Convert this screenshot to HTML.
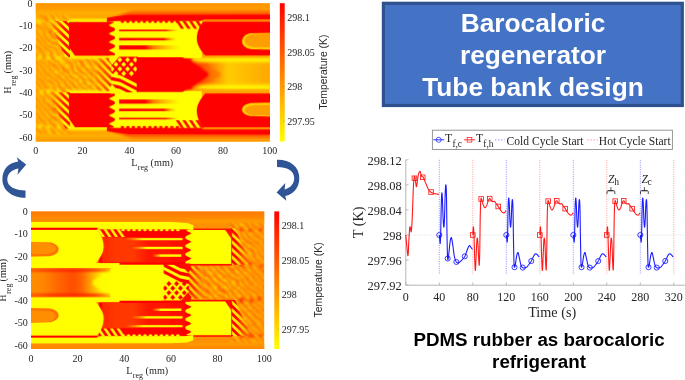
<!DOCTYPE html>
<html><head><meta charset="utf-8"><title>Barocaloric regenerator</title>
<style>
html,body{margin:0;padding:0;background:#fff;}
body{width:685px;height:380px;overflow:hidden;position:relative;}
svg{position:absolute;left:0;top:0;display:block;}
.s{font-family:"Liberation Serif","Times New Roman",serif;fill:#262626;}
.a{font-family:"Liberation Sans",Arial,sans-serif;}
</style></head><body>
<svg width="685" height="380" viewBox="0 0 685 380">
<defs>
<linearGradient id="cb" x1="0" y1="0" x2="0" y2="1"><stop offset="0" stop-color="#ff0000"/><stop offset="1" stop-color="#ffff00"/></linearGradient>
<filter id="bl" x="-5%" y="-5%" width="110%" height="110%"><feGaussianBlur stdDeviation="0.6"/></filter>
<filter id="blx" x="-5%" y="-5%" width="110%" height="110%"><feTurbulence type="fractalNoise" baseFrequency="0.09" numOctaves="2" seed="4" result="n"/><feDisplacementMap in="SourceGraphic" in2="n" scale="7" xChannelSelector="R" yChannelSelector="G"/><feGaussianBlur stdDeviation="0.9"/></filter>
<filter id="bl2" x="-5%" y="-5%" width="110%" height="110%"><feGaussianBlur stdDeviation="0.85"/></filter>
<clipPath id="cpT"><rect x="35.8" y="3.2" width="233.9" height="138.4"/></clipPath>
<clipPath id="cpB"><rect x="31.0" y="211.4" width="233.2" height="137.6"/></clipPath>
</defs>
<rect width="685" height="380" fill="#fff"/>

<defs><pattern id="psa" width="2.30" height="4" patternUnits="userSpaceOnUse" patternTransform="rotate(-43.0)"><rect width="2.30" height="4" fill="#ffd900"/><rect width="1.15" height="4" fill="#ff7000"/></pattern><pattern id="pwa" width="3.1" height="4" patternUnits="userSpaceOnUse" patternTransform="rotate(52)"><rect width="1.3" height="4" fill="#ffa300" fill-opacity="0.45"/></pattern><linearGradient id="gcalma" x1="0" y1="0" x2="1" y2="0"><stop offset="0.000" stop-color="#ffa300" stop-opacity="0.65"/><stop offset="0.550" stop-color="#ffa300" stop-opacity="0.45"/><stop offset="1.000" stop-color="#ffa300" stop-opacity="0.00"/></linearGradient><linearGradient id="gta" x1="0" y1="0" x2="0" y2="1"><stop offset="0.000" stop-color="#ff9100" stop-opacity="1.00"/><stop offset="0.500" stop-color="#ff9e00" stop-opacity="1.00"/><stop offset="0.850" stop-color="#ffb200" stop-opacity="1.00"/><stop offset="1.000" stop-color="#ffb200" stop-opacity="0.00"/></linearGradient><linearGradient id="gba" x1="0" y1="0" x2="0" y2="1"><stop offset="0.000" stop-color="#ffb200" stop-opacity="0.00"/><stop offset="0.150" stop-color="#ffb200" stop-opacity="1.00"/><stop offset="0.500" stop-color="#ff9e00" stop-opacity="1.00"/><stop offset="1.000" stop-color="#ff9100" stop-opacity="1.00"/></linearGradient><pattern id="phua" width="2.40" height="4" patternUnits="userSpaceOnUse" patternTransform="rotate(-45.0)"><rect width="2.40" height="4" fill="#fffa00"/><rect width="1.20" height="4" fill="#ff1400"/></pattern><linearGradient id="gmua" gradientUnits="userSpaceOnUse" x1="5.5" y1="0" x2="14.6" y2="0"><stop offset="0" stop-color="#fff" stop-opacity="0.1"/><stop offset="0.4" stop-color="#fff" stop-opacity="0.5"/><stop offset="0.72" stop-color="#fff" stop-opacity="1"/><stop offset="1" stop-color="#fff" stop-opacity="1"/></linearGradient><mask id="mkua" maskUnits="userSpaceOnUse" x="3" y="0" width="13" height="64"><polygon points="14.7,8.00 14.7,24.40 12.6,24.40 5.5,8.00" fill="url(#gmua)"/></mask><linearGradient id="glua" x1="0" y1="0" x2="0" y2="1"><stop offset="0.000" stop-color="#ff0000" stop-opacity="0.00"/><stop offset="1.000" stop-color="#ff0000" stop-opacity="1.00"/></linearGradient><linearGradient id="gsua" x1="0" y1="0" x2="1" y2="0"><stop offset="0.000" stop-color="#ff0000" stop-opacity="1.00"/><stop offset="0.780" stop-color="#ff1400" stop-opacity="1.00"/><stop offset="1.000" stop-color="#ff7300" stop-opacity="0.00"/></linearGradient><linearGradient id="gt3ua" x1="0" y1="0" x2="1" y2="0"><stop offset="0.000" stop-color="#ff0000" stop-opacity="1.00"/><stop offset="0.420" stop-color="#ff0000" stop-opacity="1.00"/><stop offset="0.550" stop-color="#ff6600" stop-opacity="0.90"/><stop offset="1.000" stop-color="#ffa600" stop-opacity="0.00"/></linearGradient><pattern id="phma" width="2.40" height="4" patternUnits="userSpaceOnUse" patternTransform="rotate(-45.0)"><rect width="2.40" height="4" fill="#fffa00"/><rect width="1.20" height="4" fill="#ff1400"/></pattern><linearGradient id="gmma" gradientUnits="userSpaceOnUse" x1="5.5" y1="0" x2="14.6" y2="0"><stop offset="0" stop-color="#fff" stop-opacity="0.1"/><stop offset="0.4" stop-color="#fff" stop-opacity="0.5"/><stop offset="0.72" stop-color="#fff" stop-opacity="1"/><stop offset="1" stop-color="#fff" stop-opacity="1"/></linearGradient><mask id="mkma" maskUnits="userSpaceOnUse" x="3" y="0" width="13" height="64"><polygon points="14.7,40.00 14.7,56.40 12.6,56.40 5.5,40.00" fill="url(#gmma)"/></mask><linearGradient id="glma" x1="0" y1="0" x2="0" y2="1"><stop offset="0.000" stop-color="#ff0000" stop-opacity="1.00"/><stop offset="1.000" stop-color="#ff0000" stop-opacity="0.00"/></linearGradient><linearGradient id="gsma" x1="0" y1="0" x2="1" y2="0"><stop offset="0.000" stop-color="#ff0000" stop-opacity="1.00"/><stop offset="0.780" stop-color="#ff1400" stop-opacity="1.00"/><stop offset="1.000" stop-color="#ff7300" stop-opacity="0.00"/></linearGradient><linearGradient id="gt3ma" x1="0" y1="0" x2="1" y2="0"><stop offset="0.000" stop-color="#ff0000" stop-opacity="1.00"/><stop offset="0.420" stop-color="#ff0000" stop-opacity="1.00"/><stop offset="0.550" stop-color="#ff6600" stop-opacity="0.90"/><stop offset="1.000" stop-color="#ffa600" stop-opacity="0.00"/></linearGradient><linearGradient id="gwa" x1="0" y1="0" x2="1" y2="0"><stop offset="0.000" stop-color="#ff0000" stop-opacity="1.00"/><stop offset="0.200" stop-color="#ff3300" stop-opacity="1.00"/><stop offset="0.300" stop-color="#ff8000" stop-opacity="1.00"/><stop offset="0.480" stop-color="#ffcc00" stop-opacity="1.00"/><stop offset="0.720" stop-color="#ffb800" stop-opacity="1.00"/><stop offset="1.000" stop-color="#ffa100" stop-opacity="1.00"/></linearGradient><linearGradient id="gwea" x1="0" y1="0" x2="0" y2="1"><stop offset="0.000" stop-color="#ffe600" stop-opacity="0.60"/><stop offset="0.050" stop-color="#ffff00" stop-opacity="1.00"/><stop offset="0.100" stop-color="#fff500" stop-opacity="0.90"/><stop offset="0.220" stop-color="#ffcc00" stop-opacity="0.00"/><stop offset="0.780" stop-color="#ffcc00" stop-opacity="0.00"/><stop offset="0.900" stop-color="#fff500" stop-opacity="0.90"/><stop offset="0.950" stop-color="#ffff00" stop-opacity="1.00"/><stop offset="1.000" stop-color="#ffe600" stop-opacity="0.60"/></linearGradient><pattern id="phca" width="2.40" height="4" patternUnits="userSpaceOnUse" patternTransform="rotate(-43.0)"><rect width="2.40" height="4" fill="#fff700"/><rect width="1.20" height="4" fill="#ff1900"/></pattern><linearGradient id="gmca" x1="0" y1="0" x2="1" y2="0"><stop offset="0" stop-color="#fff" stop-opacity="0"/><stop offset="0.6" stop-color="#fff" stop-opacity="0.6"/><stop offset="1" stop-color="#fff" stop-opacity="1"/></linearGradient><mask id="mkca" maskUnits="userSpaceOnUse" x="24" y="20" width="12" height="24"><rect x="25" y="20" width="8" height="24" fill="url(#gmca)"/></mask><clipPath id="cka"><rect x="32.2" y="23.6" width="10.9" height="16.8"/></clipPath><pattern id="psb" width="2.30" height="4" patternUnits="userSpaceOnUse" patternTransform="rotate(-43.0)"><rect width="2.30" height="4" fill="#ffcc00"/><rect width="1.15" height="4" fill="#ff5c00"/></pattern><pattern id="pwb" width="3.1" height="4" patternUnits="userSpaceOnUse" patternTransform="rotate(52)"><rect width="1.3" height="4" fill="#ff8f00" fill-opacity="0.45"/></pattern><linearGradient id="gcalmb" x1="0" y1="0" x2="1" y2="0"><stop offset="0.000" stop-color="#ff8f00" stop-opacity="0.65"/><stop offset="0.550" stop-color="#ff8f00" stop-opacity="0.45"/><stop offset="1.000" stop-color="#ff8f00" stop-opacity="0.00"/></linearGradient><linearGradient id="gtb" x1="0" y1="0" x2="0" y2="1"><stop offset="0.000" stop-color="#ff7500" stop-opacity="1.00"/><stop offset="0.500" stop-color="#ff8700" stop-opacity="1.00"/><stop offset="0.850" stop-color="#ff9e00" stop-opacity="1.00"/><stop offset="1.000" stop-color="#ff9e00" stop-opacity="0.00"/></linearGradient><linearGradient id="gbb" x1="0" y1="0" x2="0" y2="1"><stop offset="0.000" stop-color="#ff9e00" stop-opacity="0.00"/><stop offset="0.150" stop-color="#ff9e00" stop-opacity="1.00"/><stop offset="0.500" stop-color="#ff8700" stop-opacity="1.00"/><stop offset="1.000" stop-color="#ff7500" stop-opacity="1.00"/></linearGradient><pattern id="phub" width="2.40" height="4" patternUnits="userSpaceOnUse" patternTransform="rotate(-45.0)"><rect width="2.40" height="4" fill="#ff0500"/><rect width="1.20" height="4" fill="#ffeb00"/></pattern><linearGradient id="gmub" gradientUnits="userSpaceOnUse" x1="5.5" y1="0" x2="14.6" y2="0"><stop offset="0" stop-color="#fff" stop-opacity="0.1"/><stop offset="0.4" stop-color="#fff" stop-opacity="0.5"/><stop offset="0.72" stop-color="#fff" stop-opacity="1"/><stop offset="1" stop-color="#fff" stop-opacity="1"/></linearGradient><mask id="mkub" maskUnits="userSpaceOnUse" x="3" y="0" width="13" height="64"><polygon points="14.7,8.00 14.7,24.40 12.6,24.40 5.5,8.00" fill="url(#gmub)"/></mask><linearGradient id="gzub" x1="0" y1="0" x2="1" y2="0"><stop offset="0.000" stop-color="#ff0d00" stop-opacity="1.00"/><stop offset="0.450" stop-color="#ff1900" stop-opacity="1.00"/><stop offset="0.620" stop-color="#ff3800" stop-opacity="1.00"/><stop offset="0.850" stop-color="#ff3800" stop-opacity="1.00"/><stop offset="1.000" stop-color="#ff2600" stop-opacity="1.00"/></linearGradient><linearGradient id="gsub" x1="0" y1="0" x2="1" y2="0"><stop offset="0.000" stop-color="#ffff00" stop-opacity="1.00"/><stop offset="0.700" stop-color="#ffff00" stop-opacity="1.00"/><stop offset="1.000" stop-color="#ffcc00" stop-opacity="0.00"/></linearGradient><pattern id="phmb" width="2.40" height="4" patternUnits="userSpaceOnUse" patternTransform="rotate(-45.0)"><rect width="2.40" height="4" fill="#ff0500"/><rect width="1.20" height="4" fill="#ffeb00"/></pattern><linearGradient id="gmmb" gradientUnits="userSpaceOnUse" x1="5.5" y1="0" x2="14.6" y2="0"><stop offset="0" stop-color="#fff" stop-opacity="0.1"/><stop offset="0.4" stop-color="#fff" stop-opacity="0.5"/><stop offset="0.72" stop-color="#fff" stop-opacity="1"/><stop offset="1" stop-color="#fff" stop-opacity="1"/></linearGradient><mask id="mkmb" maskUnits="userSpaceOnUse" x="3" y="0" width="13" height="64"><polygon points="14.7,40.00 14.7,56.40 12.6,56.40 5.5,40.00" fill="url(#gmmb)"/></mask><linearGradient id="gzmb" x1="0" y1="0" x2="1" y2="0"><stop offset="0.000" stop-color="#ff0d00" stop-opacity="1.00"/><stop offset="0.450" stop-color="#ff1900" stop-opacity="1.00"/><stop offset="0.620" stop-color="#ff3800" stop-opacity="1.00"/><stop offset="0.850" stop-color="#ff3800" stop-opacity="1.00"/><stop offset="1.000" stop-color="#ff2600" stop-opacity="1.00"/></linearGradient><linearGradient id="gsmb" x1="0" y1="0" x2="1" y2="0"><stop offset="0.000" stop-color="#ffff00" stop-opacity="1.00"/><stop offset="0.700" stop-color="#ffff00" stop-opacity="1.00"/><stop offset="1.000" stop-color="#ffcc00" stop-opacity="0.00"/></linearGradient><linearGradient id="gwb" x1="0" y1="0" x2="1" y2="0"><stop offset="0.000" stop-color="#ffff00" stop-opacity="1.00"/><stop offset="0.140" stop-color="#fff000" stop-opacity="1.00"/><stop offset="0.240" stop-color="#ffb200" stop-opacity="1.00"/><stop offset="0.360" stop-color="#ff6600" stop-opacity="1.00"/><stop offset="0.460" stop-color="#ff4d00" stop-opacity="1.00"/><stop offset="0.620" stop-color="#ff6600" stop-opacity="1.00"/><stop offset="0.800" stop-color="#ff8700" stop-opacity="1.00"/><stop offset="1.000" stop-color="#ff9100" stop-opacity="1.00"/></linearGradient><linearGradient id="grmb" x1="0" y1="0" x2="1" y2="0"><stop offset="0.000" stop-color="#ff2600" stop-opacity="0.00"/><stop offset="0.100" stop-color="#ff2600" stop-opacity="0.55"/><stop offset="0.220" stop-color="#ff1f00" stop-opacity="1.00"/><stop offset="0.700" stop-color="#ff2600" stop-opacity="0.95"/><stop offset="1.000" stop-color="#ff4d00" stop-opacity="0.70"/></linearGradient><pattern id="phcb" width="2.40" height="4" patternUnits="userSpaceOnUse" patternTransform="rotate(-43.0)"><rect width="2.40" height="4" fill="#ff0800"/><rect width="1.20" height="4" fill="#ffe600"/></pattern><linearGradient id="gmcb" x1="0" y1="0" x2="1" y2="0"><stop offset="0" stop-color="#fff" stop-opacity="0"/><stop offset="0.6" stop-color="#fff" stop-opacity="0.6"/><stop offset="1" stop-color="#fff" stop-opacity="1"/></linearGradient><mask id="mkcb" maskUnits="userSpaceOnUse" x="24" y="20" width="12" height="24"><rect x="25" y="20" width="8" height="24" fill="url(#gmcb)"/></mask><clipPath id="ckb"><rect x="32.2" y="23.6" width="10.9" height="16.8"/></clipPath></defs>
<g clip-path="url(#cpT)"><g filter="url(#blx)"><g transform="translate(35.8,3.2) scale(2.339,2.228)"><rect x="-6.00" y="-6.00" width="112.00" height="76.00" fill="#ffa300" /><rect x="-6.00" y="4.60" width="20.60" height="54.80" fill="url(#psa)" /><rect x="-6.00" y="24.40" width="39.50" height="15.20" fill="url(#psa)" /><rect x="-6.00" y="4.60" width="20.60" height="54.80" fill="url(#pwa)" /><rect x="-6.00" y="24.40" width="39.50" height="15.20" fill="url(#pwa)" /><rect x="-6.00" y="4.60" width="17.00" height="54.80" fill="url(#gcalma)" /><ellipse cx="1.80" cy="8.30" rx="1.10" ry="0.90" fill="#fff200" fill-opacity="0.7"/><ellipse cx="5.80" cy="8.30" rx="1.10" ry="0.90" fill="#fff200" fill-opacity="0.7"/><ellipse cx="9.80" cy="8.30" rx="1.10" ry="0.90" fill="#fff200" fill-opacity="0.7"/><ellipse cx="1.80" cy="24.20" rx="1.10" ry="0.90" fill="#fff200" fill-opacity="0.7"/><ellipse cx="5.80" cy="24.20" rx="1.10" ry="0.90" fill="#fff200" fill-opacity="0.7"/><ellipse cx="9.80" cy="24.20" rx="1.10" ry="0.90" fill="#fff200" fill-opacity="0.7"/><ellipse cx="1.80" cy="39.80" rx="1.10" ry="0.90" fill="#fff200" fill-opacity="0.7"/><ellipse cx="5.80" cy="39.80" rx="1.10" ry="0.90" fill="#fff200" fill-opacity="0.7"/><ellipse cx="9.80" cy="39.80" rx="1.10" ry="0.90" fill="#fff200" fill-opacity="0.7"/><ellipse cx="1.80" cy="55.70" rx="1.10" ry="0.90" fill="#fff200" fill-opacity="0.7"/><ellipse cx="5.80" cy="55.70" rx="1.10" ry="0.90" fill="#fff200" fill-opacity="0.7"/><ellipse cx="9.80" cy="55.70" rx="1.10" ry="0.90" fill="#fff200" fill-opacity="0.7"/></g></g><g filter="url(#bl2)"><g transform="translate(35.8,3.2) scale(2.339,2.228)"><rect x="-3.00" y="-0.30" width="106.00" height="5.90" fill="url(#gta)" /><rect x="-3.00" y="58.40" width="106.00" height="5.90" fill="url(#gba)" /><rect x="13.80" y="7.00" width="19.20" height="18.00" fill="#fff200" /><polygon points="32.00,6.40 42.00,3.00 103.00,2.70 103.00,5.50 42.00,5.50" fill="url(#glua)"/><ellipse cx="64.50" cy="17.50" rx="2.60" ry="5.00" fill="#ff8c00" fill-opacity="0.28"/><ellipse cx="60.00" cy="22.00" rx="5.00" ry="1.50" fill="#ff8c00" fill-opacity="0.30"/><rect x="13.80" y="39.00" width="19.20" height="18.00" fill="#fff200" /><polygon points="32.00,57.60 42.00,61.00 103.00,61.30 103.00,58.50 42.00,58.50" fill="url(#glma)"/><ellipse cx="64.50" cy="46.50" rx="2.60" ry="5.00" fill="#ff8c00" fill-opacity="0.28"/><ellipse cx="60.00" cy="42.00" rx="5.00" ry="1.50" fill="#ff8c00" fill-opacity="0.30"/><rect x="63.00" y="24.50" width="40.00" height="14.10" fill="url(#gwa)" /><rect x="67.00" y="24.40" width="36.00" height="14.20" fill="url(#gwea)" /><polygon points="62.00,24.30 69.00,25.80 79.00,31.20 79.00,32.80 69.00,38.20 62.00,39.70" fill="#ff6600" fill-opacity="0.55"/><polygon points="62.00,24.40 66.50,25.40 74.00,31.20 74.00,32.80 66.50,38.60 62.00,39.60" fill="#ff0000" /></g></g><g filter="url(#bl)"><g transform="translate(35.8,3.2) scale(2.339,2.228)"><rect x="3.00" y="8.00" width="11.70" height="16.40" fill="url(#phua)" mask="url(#mkua)"/><rect x="32.30" y="8.00" width="38.70" height="16.60" fill="#ffff00" /><polygon points="30.40,6.50 34.00,6.00 40.00,5.20 103.00,5.00 103.00,7.40 72.00,7.40 70.00,8.00 34.00,8.00 30.40,8.50" fill="#ff0000" /><rect x="71.50" y="7.35" width="31.50" height="0.90" fill="#ff8c00" /><polygon points="14.15,8.40 33.00,8.40 33.44,8.72 32.81,9.03 32.04,9.35 31.45,9.67 31.32,9.98 31.72,10.30 32.45,10.62 33.18,10.93 33.64,11.25 33.79,11.57 33.80,11.88 33.71,12.20 33.36,12.52 32.69,12.83 31.93,13.15 31.39,13.47 31.35,13.78 31.82,14.10 32.57,14.42 33.27,14.73 33.68,15.05 33.80,15.37 33.80,15.68 33.68,16.00 33.27,16.32 32.57,16.63 31.82,16.95 31.35,17.27 31.39,17.58 31.93,17.90 32.69,18.22 33.36,18.53 33.71,18.85 33.80,19.17 33.79,19.48 33.64,19.80 33.18,20.12 32.45,20.43 31.72,20.75 31.32,21.07 31.45,21.38 32.04,21.70 32.81,22.02 33.44,22.33 33.74,22.65 33.80,22.97 33.78,23.28 33.59,23.60 16.70,23.60 14.15,19.80" fill="#ff0000" /><rect x="35.60" y="11.85" width="25.40" height="0.75" fill="url(#gsua)" /><rect x="35.60" y="15.55" width="24.40" height="1.15" fill="url(#gsua)" /><rect x="35.60" y="18.90" width="26.40" height="1.90" fill="url(#gt3ua)" /><ellipse cx="37.00" cy="8.35" rx="0.80" ry="0.50" fill="#ff0000" /><ellipse cx="39.35" cy="8.35" rx="0.80" ry="0.50" fill="#ff0000" /><ellipse cx="41.70" cy="8.35" rx="0.80" ry="0.50" fill="#ff0000" /><ellipse cx="44.05" cy="8.35" rx="0.80" ry="0.50" fill="#ff0000" /><ellipse cx="46.40" cy="8.35" rx="0.80" ry="0.50" fill="#ff0000" /><ellipse cx="48.75" cy="8.35" rx="0.80" ry="0.50" fill="#ff0000" /><ellipse cx="51.10" cy="8.35" rx="0.80" ry="0.50" fill="#ff0000" /><ellipse cx="53.45" cy="8.35" rx="0.80" ry="0.50" fill="#ff0000" /><ellipse cx="55.80" cy="8.35" rx="0.80" ry="0.50" fill="#ff0000" /><ellipse cx="58.15" cy="8.35" rx="0.80" ry="0.50" fill="#ff0000" /><ellipse cx="60.50" cy="8.35" rx="0.80" ry="0.50" fill="#ff0000" /><polygon points="59.80,8.00 61.15,8.00 63.40,11.50 62.05,11.50" fill="#ff0800" /><polygon points="62.60,8.00 63.95,8.00 66.20,11.50 64.85,11.50" fill="#ff0800" /><polygon points="65.40,8.00 66.75,8.00 69.00,11.50 67.65,11.50" fill="#ff0800" /><polygon points="68.20,8.00 69.55,8.00 71.80,11.50 70.45,11.50" fill="#ff0800" /><path d="M71.60,8.30 L103.00,8.30 L103.00,23.50 L72.40,23.50 C70.40,21.00 69.00,19.00 68.80,16.00 C68.80,13.00 69.80,10.50 71.60,8.30 Z" fill="#ff0000"/><path d="M103.00,13.20 L91.50,13.50 Q88.30,14.40 88.10,17.05 Q88.30,20.10 92.00,20.70 L103.00,20.90 Z" fill="#ffd100"/><path d="M103.00,13.50 L92.50,13.80 Q89.40,14.70 89.30,16.85 Q89.50,19.20 93.00,19.70 L103.00,19.90 Z" fill="#ff9e00"/><rect x="3.00" y="40.00" width="11.70" height="16.40" fill="url(#phma)" mask="url(#mkma)"/><rect x="32.30" y="39.40" width="38.70" height="16.60" fill="#ffff00" /><polygon points="30.40,57.50 34.00,58.00 40.00,58.80 103.00,59.00 103.00,56.60 72.00,56.60 70.00,56.00 34.00,56.00 30.40,55.50" fill="#ff0000" /><rect x="71.50" y="55.75" width="31.50" height="0.90" fill="#ff8c00" /><polygon points="14.15,40.40 33.59,40.40 33.78,40.72 33.80,41.03 33.74,41.35 33.44,41.67 32.81,41.98 32.04,42.30 31.45,42.62 31.32,42.93 31.72,43.25 32.45,43.57 33.18,43.88 33.64,44.20 33.79,44.52 33.80,44.83 33.71,45.15 33.36,45.47 32.69,45.78 31.93,46.10 31.39,46.42 31.35,46.73 31.82,47.05 32.57,47.37 33.27,47.68 33.68,48.00 33.80,48.32 33.80,48.63 33.68,48.95 33.27,49.27 32.57,49.58 31.82,49.90 31.35,50.22 31.39,50.53 31.93,50.85 32.69,51.17 33.36,51.48 33.71,51.80 33.80,52.12 33.79,52.43 33.64,52.75 33.18,53.07 32.45,53.38 31.72,53.70 31.32,54.02 31.45,54.33 32.04,54.65 32.81,54.97 33.44,55.28 33.00,55.60 16.70,55.60 14.15,51.80" fill="#ff0000" /><rect x="35.60" y="51.40" width="25.40" height="0.75" fill="url(#gsma)" /><rect x="35.60" y="47.30" width="24.40" height="1.15" fill="url(#gsma)" /><rect x="35.60" y="43.20" width="26.40" height="1.90" fill="url(#gt3ma)" /><ellipse cx="37.00" cy="55.65" rx="0.80" ry="0.50" fill="#ff0000" /><ellipse cx="39.35" cy="55.65" rx="0.80" ry="0.50" fill="#ff0000" /><ellipse cx="41.70" cy="55.65" rx="0.80" ry="0.50" fill="#ff0000" /><ellipse cx="44.05" cy="55.65" rx="0.80" ry="0.50" fill="#ff0000" /><ellipse cx="46.40" cy="55.65" rx="0.80" ry="0.50" fill="#ff0000" /><ellipse cx="48.75" cy="55.65" rx="0.80" ry="0.50" fill="#ff0000" /><ellipse cx="51.10" cy="55.65" rx="0.80" ry="0.50" fill="#ff0000" /><ellipse cx="53.45" cy="55.65" rx="0.80" ry="0.50" fill="#ff0000" /><ellipse cx="55.80" cy="55.65" rx="0.80" ry="0.50" fill="#ff0000" /><ellipse cx="58.15" cy="55.65" rx="0.80" ry="0.50" fill="#ff0000" /><ellipse cx="60.50" cy="55.65" rx="0.80" ry="0.50" fill="#ff0000" /><polygon points="62.05,56.00 63.40,56.00 61.15,52.50 59.80,52.50" fill="#ff0800" /><polygon points="64.85,56.00 66.20,56.00 63.95,52.50 62.60,52.50" fill="#ff0800" /><polygon points="67.65,56.00 69.00,56.00 66.75,52.50 65.40,52.50" fill="#ff0800" /><polygon points="70.45,56.00 71.80,56.00 69.55,52.50 68.20,52.50" fill="#ff0800" /><path d="M71.60,55.70 L103.00,55.70 L103.00,40.50 L72.40,40.50 C70.40,43.00 69.00,45.00 68.80,48.00 C68.80,51.00 69.80,53.50 71.60,55.70 Z" fill="#ff0000"/><path d="M103.00,50.90 L91.50,50.60 Q88.30,49.70 88.10,47.75 Q88.30,45.40 92.00,44.80 L103.00,44.60 Z" fill="#ffd100"/><path d="M103.00,50.60 L92.50,50.30 Q89.40,49.40 89.30,47.95 Q89.50,46.30 93.00,45.80 L103.00,45.60 Z" fill="#ff9e00"/><polygon points="62.00,24.60 64.50,25.60 71.00,31.40 71.00,32.60 64.50,38.40 62.00,39.40" fill="#ff0000" /><rect x="42.6" y="24.2" width="21" height="15.6" rx="1.2" fill="#ff0000"/><rect x="25.00" y="24.60" width="8.00" height="14.80" fill="url(#phca)" mask="url(#mkca)"/><rect x="32.40" y="24.00" width="11.10" height="16.00" fill="#ff0000" /><g clip-path="url(#cka)"><polygon points="31.55,25.40 32.60,24.20 33.65,25.40 32.60,26.60" fill="#ffff00"/><polygon points="34.85,25.40 35.90,24.20 36.95,25.40 35.90,26.60" fill="#ffff00"/><polygon points="38.15,25.40 39.20,24.20 40.25,25.40 39.20,26.60" fill="#ffff00"/><polygon points="41.45,25.40 42.50,24.20 43.55,25.40 42.50,26.60" fill="#ffff00"/><polygon points="44.75,25.40 45.80,24.20 46.85,25.40 45.80,26.60" fill="#ffff00"/><polygon points="33.20,27.45 34.25,26.25 35.30,27.45 34.25,28.65" fill="#ffff00"/><polygon points="36.50,27.45 37.55,26.25 38.60,27.45 37.55,28.65" fill="#ffff00"/><polygon points="39.80,27.45 40.85,26.25 41.90,27.45 40.85,28.65" fill="#ffff00"/><polygon points="43.10,27.45 44.15,26.25 45.20,27.45 44.15,28.65" fill="#ffff00"/><polygon points="46.40,27.45 47.45,26.25 48.50,27.45 47.45,28.65" fill="#ffff00"/><polygon points="31.55,29.50 32.60,28.30 33.65,29.50 32.60,30.70" fill="#ffff00"/><polygon points="34.85,29.50 35.90,28.30 36.95,29.50 35.90,30.70" fill="#ffff00"/><polygon points="38.15,29.50 39.20,28.30 40.25,29.50 39.20,30.70" fill="#ffff00"/><polygon points="41.45,29.50 42.50,28.30 43.55,29.50 42.50,30.70" fill="#ffff00"/><polygon points="44.75,29.50 45.80,28.30 46.85,29.50 45.80,30.70" fill="#ffff00"/><polygon points="33.20,31.55 34.25,30.35 35.30,31.55 34.25,32.75" fill="#ffff00"/><polygon points="36.50,31.55 37.55,30.35 38.60,31.55 37.55,32.75" fill="#ffff00"/><polygon points="39.80,31.55 40.85,30.35 41.90,31.55 40.85,32.75" fill="#ffff00"/><polygon points="43.10,31.55 44.15,30.35 45.20,31.55 44.15,32.75" fill="#ffff00"/><polygon points="46.40,31.55 47.45,30.35 48.50,31.55 47.45,32.75" fill="#ffff00"/><polygon points="31.50,31.30 36.00,32.30 43.50,36.30 43.50,37.90 36.00,33.90 31.50,32.90" fill="#ffff00"/><polygon points="31.50,34.40 36.00,35.40 43.50,39.40 43.50,41.00 36.00,37.00 31.50,36.00" fill="#ffff00"/><polygon points="31.50,37.50 36.00,38.50 43.50,42.50 43.50,44.10 36.00,40.10 31.50,39.10" fill="#ffff00"/></g><polygon points="31.80,23.40 36.00,23.40 34.00,26.00 32.60,27.60 31.20,25.60" fill="#fff700" /><polygon points="31.80,40.60 36.00,40.60 34.00,38.00 32.60,36.40 31.20,38.40" fill="#fff700" /></g></g></g>
<g clip-path="url(#cpB)"><g filter="url(#blx)"><g transform="translate(264.2,353.99) scale(-2.332,-2.228)"><rect x="-6.00" y="-6.00" width="112.00" height="76.00" fill="#ff8f00" /><rect x="-6.00" y="4.60" width="20.60" height="54.80" fill="url(#psb)" /><rect x="-6.00" y="24.40" width="39.50" height="15.20" fill="url(#psb)" /><rect x="-6.00" y="4.60" width="20.60" height="54.80" fill="url(#pwb)" /><rect x="-6.00" y="24.40" width="39.50" height="15.20" fill="url(#pwb)" /><rect x="-6.00" y="4.60" width="17.00" height="54.80" fill="url(#gcalmb)" /><ellipse cx="1.80" cy="8.30" rx="1.10" ry="0.90" fill="#ff0d00" fill-opacity="0.7"/><ellipse cx="5.80" cy="8.30" rx="1.10" ry="0.90" fill="#ff0d00" fill-opacity="0.7"/><ellipse cx="9.80" cy="8.30" rx="1.10" ry="0.90" fill="#ff0d00" fill-opacity="0.7"/><ellipse cx="1.80" cy="24.20" rx="1.10" ry="0.90" fill="#ff0d00" fill-opacity="0.7"/><ellipse cx="5.80" cy="24.20" rx="1.10" ry="0.90" fill="#ff0d00" fill-opacity="0.7"/><ellipse cx="9.80" cy="24.20" rx="1.10" ry="0.90" fill="#ff0d00" fill-opacity="0.7"/><ellipse cx="1.80" cy="39.80" rx="1.10" ry="0.90" fill="#ff0d00" fill-opacity="0.7"/><ellipse cx="5.80" cy="39.80" rx="1.10" ry="0.90" fill="#ff0d00" fill-opacity="0.7"/><ellipse cx="9.80" cy="39.80" rx="1.10" ry="0.90" fill="#ff0d00" fill-opacity="0.7"/><ellipse cx="1.80" cy="55.70" rx="1.10" ry="0.90" fill="#ff0d00" fill-opacity="0.7"/><ellipse cx="5.80" cy="55.70" rx="1.10" ry="0.90" fill="#ff0d00" fill-opacity="0.7"/><ellipse cx="9.80" cy="55.70" rx="1.10" ry="0.90" fill="#ff0d00" fill-opacity="0.7"/></g></g><g filter="url(#bl2)"><g transform="translate(264.2,353.99) scale(-2.332,-2.228)"><rect x="-3.00" y="-0.30" width="106.00" height="5.90" fill="url(#gtb)" /><rect x="-3.00" y="58.40" width="106.00" height="5.90" fill="url(#gbb)" /><rect x="33.00" y="3.90" width="70.00" height="0.90" fill="#ff7a00" fill-opacity="0.6"/><polygon points="51.00,22.60 55.00,22.80 66.00,12.50 63.00,11.80" fill="#ff0800" fill-opacity="0.9"/><ellipse cx="63.00" cy="19.50" rx="3.20" ry="2.60" fill="#ff7300" fill-opacity="0.55"/><ellipse cx="57.50" cy="13.50" rx="3.00" ry="1.60" fill="#ff6600" fill-opacity="0.5"/><rect x="33.00" y="59.20" width="70.00" height="0.90" fill="#ff7a00" fill-opacity="0.6"/><polygon points="51.00,41.40 55.00,41.20 66.00,51.50 63.00,52.20" fill="#ff0800" fill-opacity="0.9"/><ellipse cx="63.00" cy="44.50" rx="3.20" ry="2.60" fill="#ff7300" fill-opacity="0.55"/><ellipse cx="57.50" cy="50.50" rx="3.00" ry="1.60" fill="#ff6600" fill-opacity="0.5"/><rect x="64.00" y="25.50" width="39.00" height="13.00" fill="url(#gwb)" /><rect x="64.00" y="25.80" width="39.00" height="1.40" fill="url(#grmb)" /><rect x="64.00" y="36.80" width="39.00" height="1.40" fill="url(#grmb)" /><polygon points="62.00,25.60 68.00,27.40 73.50,31.00 73.50,33.00 68.00,36.60 62.00,38.40" fill="#ffff00" fill-opacity="0.85"/></g></g><g filter="url(#bl)"><g transform="translate(264.2,353.99) scale(-2.332,-2.228)"><rect x="3.00" y="8.00" width="11.70" height="16.40" fill="url(#phub)" mask="url(#mkub)"/><rect x="13.80" y="7.75" width="19.20" height="16.55" fill="#ff0800" /><rect x="32.30" y="8.00" width="38.70" height="16.60" fill="#ff0000" /><polygon points="30.40,6.20 33.00,5.20 40.00,4.80 103.00,4.70 103.00,7.40 72.00,7.40 70.00,8.00 34.00,8.00 30.40,8.50" fill="#ffff00" /><rect x="71.50" y="7.35" width="31.50" height="0.95" fill="#ff0000" /><polygon points="14.15,8.40 33.00,8.40 33.44,8.72 32.81,9.03 32.04,9.35 31.45,9.67 31.32,9.98 31.72,10.30 32.45,10.62 33.18,10.93 33.64,11.25 33.79,11.57 33.80,11.88 33.71,12.20 33.36,12.52 32.69,12.83 31.93,13.15 31.39,13.47 31.35,13.78 31.82,14.10 32.57,14.42 33.27,14.73 33.68,15.05 33.80,15.37 33.80,15.68 33.68,16.00 33.27,16.32 32.57,16.63 31.82,16.95 31.35,17.27 31.39,17.58 31.93,17.90 32.69,18.22 33.36,18.53 33.71,18.85 33.80,19.17 33.79,19.48 33.64,19.80 33.18,20.12 32.45,20.43 31.72,20.75 31.32,21.07 31.45,21.38 32.04,21.70 32.81,22.02 33.44,22.33 33.74,22.65 33.80,22.97 33.78,23.28 33.59,23.60 16.70,23.60 14.15,19.80" fill="#ffff00" /><rect x="34.00" y="11.60" width="35.50" height="11.30" fill="url(#gzub)" /><rect x="35.00" y="12.00" width="24.50" height="0.95" fill="url(#gsub)" /><rect x="35.00" y="15.90" width="22.00" height="1.05" fill="url(#gsub)" /><rect x="35.50" y="19.30" width="12.50" height="1.10" fill="url(#gsub)" /><ellipse cx="37.00" cy="8.35" rx="0.80" ry="0.50" fill="#ffff00" /><ellipse cx="39.35" cy="8.35" rx="0.80" ry="0.50" fill="#ffff00" /><ellipse cx="41.70" cy="8.35" rx="0.80" ry="0.50" fill="#ffff00" /><ellipse cx="44.05" cy="8.35" rx="0.80" ry="0.50" fill="#ffff00" /><ellipse cx="46.40" cy="8.35" rx="0.80" ry="0.50" fill="#ffff00" /><ellipse cx="48.75" cy="8.35" rx="0.80" ry="0.50" fill="#ffff00" /><ellipse cx="51.10" cy="8.35" rx="0.80" ry="0.50" fill="#ffff00" /><ellipse cx="53.45" cy="8.35" rx="0.80" ry="0.50" fill="#ffff00" /><ellipse cx="55.80" cy="8.35" rx="0.80" ry="0.50" fill="#ffff00" /><ellipse cx="58.15" cy="8.35" rx="0.80" ry="0.50" fill="#ffff00" /><ellipse cx="60.50" cy="8.35" rx="0.80" ry="0.50" fill="#ffff00" /><polygon points="59.80,8.00 61.15,8.00 63.40,11.50 62.05,11.50" fill="#fff700" /><polygon points="62.60,8.00 63.95,8.00 66.20,11.50 64.85,11.50" fill="#fff700" /><polygon points="65.40,8.00 66.75,8.00 69.00,11.50 67.65,11.50" fill="#fff700" /><polygon points="68.20,8.00 69.55,8.00 71.80,11.50 70.45,11.50" fill="#fff700" /><path d="M71.60,8.30 L103.00,8.30 L103.00,23.50 L72.40,23.50 C70.40,21.00 69.00,19.00 68.80,16.00 C68.80,13.00 69.80,10.50 71.60,8.30 Z" fill="#ffff00"/><path d="M103.00,13.90 L91.50,14.20 Q88.30,15.10 88.10,17.25 Q88.30,19.80 92.00,20.40 L103.00,20.60 Z" fill="#ff7000"/><path d="M103.00,14.20 L92.50,14.50 Q89.40,15.40 89.30,17.05 Q89.50,18.90 93.00,19.40 L103.00,19.60 Z" fill="#ff8f00"/><rect x="3.00" y="40.00" width="11.70" height="16.40" fill="url(#phmb)" mask="url(#mkmb)"/><rect x="13.80" y="39.70" width="19.20" height="16.55" fill="#ff0800" /><rect x="32.30" y="39.40" width="38.70" height="16.60" fill="#ff0000" /><polygon points="30.40,57.80 33.00,58.80 40.00,59.20 103.00,59.30 103.00,56.60 72.00,56.60 70.00,56.00 34.00,56.00 30.40,55.50" fill="#ffff00" /><rect x="71.50" y="55.70" width="31.50" height="0.95" fill="#ff0000" /><polygon points="14.15,40.40 33.59,40.40 33.78,40.72 33.80,41.03 33.74,41.35 33.44,41.67 32.81,41.98 32.04,42.30 31.45,42.62 31.32,42.93 31.72,43.25 32.45,43.57 33.18,43.88 33.64,44.20 33.79,44.52 33.80,44.83 33.71,45.15 33.36,45.47 32.69,45.78 31.93,46.10 31.39,46.42 31.35,46.73 31.82,47.05 32.57,47.37 33.27,47.68 33.68,48.00 33.80,48.32 33.80,48.63 33.68,48.95 33.27,49.27 32.57,49.58 31.82,49.90 31.35,50.22 31.39,50.53 31.93,50.85 32.69,51.17 33.36,51.48 33.71,51.80 33.80,52.12 33.79,52.43 33.64,52.75 33.18,53.07 32.45,53.38 31.72,53.70 31.32,54.02 31.45,54.33 32.04,54.65 32.81,54.97 33.44,55.28 33.00,55.60 16.70,55.60 14.15,51.80" fill="#ffff00" /><rect x="34.00" y="41.10" width="35.50" height="11.30" fill="url(#gzmb)" /><rect x="35.00" y="51.05" width="24.50" height="0.95" fill="url(#gsmb)" /><rect x="35.00" y="47.05" width="22.00" height="1.05" fill="url(#gsmb)" /><rect x="35.50" y="43.60" width="12.50" height="1.10" fill="url(#gsmb)" /><ellipse cx="37.00" cy="55.65" rx="0.80" ry="0.50" fill="#ffff00" /><ellipse cx="39.35" cy="55.65" rx="0.80" ry="0.50" fill="#ffff00" /><ellipse cx="41.70" cy="55.65" rx="0.80" ry="0.50" fill="#ffff00" /><ellipse cx="44.05" cy="55.65" rx="0.80" ry="0.50" fill="#ffff00" /><ellipse cx="46.40" cy="55.65" rx="0.80" ry="0.50" fill="#ffff00" /><ellipse cx="48.75" cy="55.65" rx="0.80" ry="0.50" fill="#ffff00" /><ellipse cx="51.10" cy="55.65" rx="0.80" ry="0.50" fill="#ffff00" /><ellipse cx="53.45" cy="55.65" rx="0.80" ry="0.50" fill="#ffff00" /><ellipse cx="55.80" cy="55.65" rx="0.80" ry="0.50" fill="#ffff00" /><ellipse cx="58.15" cy="55.65" rx="0.80" ry="0.50" fill="#ffff00" /><ellipse cx="60.50" cy="55.65" rx="0.80" ry="0.50" fill="#ffff00" /><polygon points="62.05,56.00 63.40,56.00 61.15,52.50 59.80,52.50" fill="#fff700" /><polygon points="64.85,56.00 66.20,56.00 63.95,52.50 62.60,52.50" fill="#fff700" /><polygon points="67.65,56.00 69.00,56.00 66.75,52.50 65.40,52.50" fill="#fff700" /><polygon points="70.45,56.00 71.80,56.00 69.55,52.50 68.20,52.50" fill="#fff700" /><path d="M71.60,55.70 L103.00,55.70 L103.00,40.50 L72.40,40.50 C70.40,43.00 69.00,45.00 68.80,48.00 C68.80,51.00 69.80,53.50 71.60,55.70 Z" fill="#ffff00"/><path d="M103.00,50.30 L91.50,50.00 Q88.30,49.10 88.10,47.00 Q88.30,44.50 92.00,43.90 L103.00,43.70 Z" fill="#ff7000"/><path d="M103.00,50.00 L92.50,49.70 Q89.40,48.80 89.30,47.20 Q89.50,45.40 93.00,44.90 L103.00,44.70 Z" fill="#ff8f00"/><rect x="62.00" y="23.20" width="41.00" height="2.20" fill="#ffff00" /><rect x="62.00" y="38.60" width="41.00" height="2.20" fill="#ffff00" /><rect x="42.6" y="23.9" width="23.3" height="16.2" rx="1.5" fill="#ffff00"/><rect x="25.00" y="24.60" width="8.00" height="14.80" fill="url(#phcb)" mask="url(#mkcb)"/><rect x="32.40" y="24.00" width="11.10" height="16.00" fill="#ffff00" /><g clip-path="url(#ckb)"><polygon points="31.55,25.40 32.60,24.20 33.65,25.40 32.60,26.60" fill="#ff0000"/><polygon points="34.85,25.40 35.90,24.20 36.95,25.40 35.90,26.60" fill="#ff0000"/><polygon points="38.15,25.40 39.20,24.20 40.25,25.40 39.20,26.60" fill="#ff0000"/><polygon points="41.45,25.40 42.50,24.20 43.55,25.40 42.50,26.60" fill="#ff0000"/><polygon points="44.75,25.40 45.80,24.20 46.85,25.40 45.80,26.60" fill="#ff0000"/><polygon points="33.20,27.45 34.25,26.25 35.30,27.45 34.25,28.65" fill="#ff0000"/><polygon points="36.50,27.45 37.55,26.25 38.60,27.45 37.55,28.65" fill="#ff0000"/><polygon points="39.80,27.45 40.85,26.25 41.90,27.45 40.85,28.65" fill="#ff0000"/><polygon points="43.10,27.45 44.15,26.25 45.20,27.45 44.15,28.65" fill="#ff0000"/><polygon points="46.40,27.45 47.45,26.25 48.50,27.45 47.45,28.65" fill="#ff0000"/><polygon points="31.55,29.50 32.60,28.30 33.65,29.50 32.60,30.70" fill="#ff0000"/><polygon points="34.85,29.50 35.90,28.30 36.95,29.50 35.90,30.70" fill="#ff0000"/><polygon points="38.15,29.50 39.20,28.30 40.25,29.50 39.20,30.70" fill="#ff0000"/><polygon points="41.45,29.50 42.50,28.30 43.55,29.50 42.50,30.70" fill="#ff0000"/><polygon points="44.75,29.50 45.80,28.30 46.85,29.50 45.80,30.70" fill="#ff0000"/><polygon points="33.20,31.55 34.25,30.35 35.30,31.55 34.25,32.75" fill="#ff0000"/><polygon points="36.50,31.55 37.55,30.35 38.60,31.55 37.55,32.75" fill="#ff0000"/><polygon points="39.80,31.55 40.85,30.35 41.90,31.55 40.85,32.75" fill="#ff0000"/><polygon points="43.10,31.55 44.15,30.35 45.20,31.55 44.15,32.75" fill="#ff0000"/><polygon points="46.40,31.55 47.45,30.35 48.50,31.55 47.45,32.75" fill="#ff0000"/><polygon points="31.50,31.30 36.00,32.30 43.50,36.30 43.50,37.90 36.00,33.90 31.50,32.90" fill="#ff0000"/><polygon points="31.50,34.40 36.00,35.40 43.50,39.40 43.50,41.00 36.00,37.00 31.50,36.00" fill="#ff0000"/><polygon points="31.50,37.50 36.00,38.50 43.50,42.50 43.50,44.10 36.00,40.10 31.50,39.10" fill="#ff0000"/></g><polygon points="31.80,23.40 36.00,23.40 34.00,26.00 32.60,27.60 31.20,25.60" fill="#ff0800" /><polygon points="31.80,40.60 36.00,40.60 34.00,38.00 32.60,36.40 31.20,38.40" fill="#ff0800" /></g></g></g>
<text class="s" x="32.6" y="6.8" font-size="10" text-anchor="end">0</text>
<text class="s" x="32.6" y="29.1" font-size="10" text-anchor="end">-10</text>
<text class="s" x="32.6" y="51.4" font-size="10" text-anchor="end">-20</text>
<text class="s" x="32.6" y="73.6" font-size="10" text-anchor="end">-30</text>
<text class="s" x="32.6" y="95.9" font-size="10" text-anchor="end">-40</text>
<text class="s" x="32.6" y="118.2" font-size="10" text-anchor="end">-50</text>
<text class="s" x="32.6" y="140.5" font-size="10" text-anchor="end">-60</text>
<text class="s" x="35.8" y="153.7" font-size="10" text-anchor="middle">0</text>
<text class="s" x="82.6" y="153.7" font-size="10" text-anchor="middle">20</text>
<text class="s" x="129.4" y="153.7" font-size="10" text-anchor="middle">40</text>
<text class="s" x="176.1" y="153.7" font-size="10" text-anchor="middle">60</text>
<text class="s" x="222.9" y="153.7" font-size="10" text-anchor="middle">80</text>
<text class="s" x="269.7" y="153.7" font-size="10" text-anchor="middle">100</text>
<text class="s" font-size="10.2"><tspan x="131.3" y="165.7">L</tspan><tspan x="137.8" y="170.0" font-size="8">reg</tspan><tspan x="150.6" y="165.7">(mm)</tspan></text>
<text class="s" font-size="10.2" transform="translate(11.3,93.5) rotate(-90)"><tspan x="0" y="0" font-size="9.6">H</tspan><tspan x="7.7" y="4.2" font-size="8">reg</tspan><tspan x="20.1" y="0">(mm)</tspan></text>
<rect x="279.8" y="3.2" width="4.9" height="138.3" fill="url(#cb)"/>
<text class="s" x="287.3" y="21.2" font-size="10">298.1</text>
<rect x="283.4" y="17.3" width="1.2" height="0.5" fill="#777"/>
<text class="s" x="287.3" y="55.7" font-size="10">298.05</text>
<rect x="283.4" y="51.8" width="1.2" height="0.5" fill="#777"/>
<text class="s" x="287.3" y="90.2" font-size="10">298</text>
<rect x="283.4" y="86.3" width="1.2" height="0.5" fill="#777"/>
<text class="s" x="287.3" y="124.7" font-size="10">297.95</text>
<rect x="283.4" y="120.8" width="1.2" height="0.5" fill="#777"/>
<text class="a" font-size="10.4" fill="#262626" text-anchor="middle" transform="translate(327.3,72.1) rotate(-90)">Temperature (K)</text>
<text class="s" x="27.8" y="215.0" font-size="10" text-anchor="end">0</text>
<text class="s" x="27.8" y="237.3" font-size="10" text-anchor="end">-10</text>
<text class="s" x="27.8" y="259.6" font-size="10" text-anchor="end">-20</text>
<text class="s" x="27.8" y="281.8" font-size="10" text-anchor="end">-30</text>
<text class="s" x="27.8" y="304.1" font-size="10" text-anchor="end">-40</text>
<text class="s" x="27.8" y="326.4" font-size="10" text-anchor="end">-50</text>
<text class="s" x="27.8" y="348.7" font-size="10" text-anchor="end">-60</text>
<text class="s" x="31.0" y="361.7" font-size="10" text-anchor="middle">0</text>
<text class="s" x="77.6" y="361.7" font-size="10" text-anchor="middle">20</text>
<text class="s" x="124.3" y="361.7" font-size="10" text-anchor="middle">40</text>
<text class="s" x="170.9" y="361.7" font-size="10" text-anchor="middle">60</text>
<text class="s" x="217.6" y="361.7" font-size="10" text-anchor="middle">80</text>
<text class="s" x="264.2" y="361.7" font-size="10" text-anchor="middle">100</text>
<text class="s" font-size="10.2"><tspan x="126.3" y="373.7">L</tspan><tspan x="132.8" y="378.0" font-size="8">reg</tspan><tspan x="145.6" y="373.7">(mm)</tspan></text>
<text class="s" font-size="10.2" transform="translate(6.3,301.5) rotate(-90)"><tspan x="0" y="0" font-size="9.6">H</tspan><tspan x="7.7" y="4.2" font-size="8">reg</tspan><tspan x="20.1" y="0">(mm)</tspan></text>
<rect x="274.3" y="211.4" width="4.9" height="137.6" fill="url(#cb)"/>
<text class="s" x="281.8" y="229.2" font-size="10">298.1</text>
<rect x="277.9" y="225.3" width="1.2" height="0.5" fill="#777"/>
<text class="s" x="281.8" y="263.7" font-size="10">298.05</text>
<rect x="277.9" y="259.8" width="1.2" height="0.5" fill="#777"/>
<text class="s" x="281.8" y="298.2" font-size="10">298</text>
<rect x="277.9" y="294.3" width="1.2" height="0.5" fill="#777"/>
<text class="s" x="281.8" y="332.7" font-size="10">297.95</text>
<rect x="277.9" y="328.8" width="1.2" height="0.5" fill="#777"/>
<text class="a" font-size="10.4" fill="#262626" text-anchor="middle" transform="translate(322.0,279.9) rotate(-90)">Temperature (K)</text>
<g fill="#2f5597">
<path d="M25.5,197.8 C13,198 2.4,190.8 2.4,179.2 C2.4,168.5 9.3,162.6 18.2,161.4 L16.7,157.3 L26.2,164.6 L17.5,174.8 L18.4,168.4 C11.8,169.6 7.3,173.5 7.3,179.4 C7.3,186.4 15,190.4 25.5,190.4 Z"/>
<path d="M277,159.8 C290,159.5 299.3,166.5 299.3,178 C299.3,188.5 293,194.3 285.3,196 L286.3,200.8 L276.6,192.6 L285.3,183 L284.6,189.4 C290.6,187.8 294.2,184 294.2,178 C294.2,170.8 287,167 277,167 Z"/>
</g>

<rect x="383.4" y="3.3" width="298.9" height="102.2" fill="#4472c4" stroke="#2f528f" stroke-width="3.2"/>
<g class="a" font-weight="bold" font-size="26.3" fill="#fff" text-anchor="middle">
<text x="533" y="32.2">Barocaloric</text>
<text x="533" y="63.8">regenerator</text>
<text x="533" y="95.6">Tube bank design</text>
</g>
<g class="a" font-weight="bold" font-size="18.75" fill="#000" text-anchor="middle">
<text x="539" y="345.7">PDMS rubber as barocaloric</text>
<text x="539" y="367.9">refrigerant</text>
</g>

<g id="chart">
<line x1="405.8" y1="235.0" x2="686" y2="235.0" stroke="#dcdcdc" stroke-width="0.9" stroke-dasharray="1 1.3"/>
<line x1="439.3" y1="159.8" x2="439.3" y2="273.9" stroke="#8080ff" stroke-width="0.8" stroke-dasharray="1.1 1.2"/>
<line x1="472.8" y1="159.8" x2="472.8" y2="273.9" stroke="#ff8c8c" stroke-width="0.8" stroke-dasharray="1.1 1.2"/>
<line x1="506.3" y1="159.8" x2="506.3" y2="273.9" stroke="#8080ff" stroke-width="0.8" stroke-dasharray="1.1 1.2"/>
<line x1="539.8" y1="159.8" x2="539.8" y2="273.9" stroke="#ff8c8c" stroke-width="0.8" stroke-dasharray="1.1 1.2"/>
<line x1="573.3" y1="159.8" x2="573.3" y2="273.9" stroke="#8080ff" stroke-width="0.8" stroke-dasharray="1.1 1.2"/>
<line x1="606.8" y1="159.8" x2="606.8" y2="273.9" stroke="#ff8c8c" stroke-width="0.8" stroke-dasharray="1.1 1.2"/>
<line x1="640.3" y1="159.8" x2="640.3" y2="273.9" stroke="#8080ff" stroke-width="0.8" stroke-dasharray="1.1 1.2"/>
<line x1="673.8" y1="159.8" x2="673.8" y2="273.9" stroke="#ff8c8c" stroke-width="0.8" stroke-dasharray="1.1 1.2"/>
<path d="M405.8,159.8 V285.2 H686" fill="none" stroke="#b4b4b4" stroke-width="1"/>
<line x1="405.8" y1="285.2" x2="405.8" y2="282.4" stroke="#b4b4b4" stroke-width="0.9"/>
<text class="s" x="405.8" y="300.7" font-size="12" text-anchor="middle">0</text>
<line x1="439.3" y1="285.2" x2="439.3" y2="282.4" stroke="#b4b4b4" stroke-width="0.9"/>
<text class="s" x="439.3" y="300.7" font-size="12" text-anchor="middle">40</text>
<line x1="472.8" y1="285.2" x2="472.8" y2="282.4" stroke="#b4b4b4" stroke-width="0.9"/>
<text class="s" x="472.8" y="300.7" font-size="12" text-anchor="middle">80</text>
<line x1="506.3" y1="285.2" x2="506.3" y2="282.4" stroke="#b4b4b4" stroke-width="0.9"/>
<text class="s" x="506.3" y="300.7" font-size="12" text-anchor="middle">120</text>
<line x1="539.8" y1="285.2" x2="539.8" y2="282.4" stroke="#b4b4b4" stroke-width="0.9"/>
<text class="s" x="539.8" y="300.7" font-size="12" text-anchor="middle">160</text>
<line x1="573.3" y1="285.2" x2="573.3" y2="282.4" stroke="#b4b4b4" stroke-width="0.9"/>
<text class="s" x="573.3" y="300.7" font-size="12" text-anchor="middle">200</text>
<line x1="606.8" y1="285.2" x2="606.8" y2="282.4" stroke="#b4b4b4" stroke-width="0.9"/>
<text class="s" x="606.8" y="300.7" font-size="12" text-anchor="middle">240</text>
<line x1="640.3" y1="285.2" x2="640.3" y2="282.4" stroke="#b4b4b4" stroke-width="0.9"/>
<text class="s" x="640.3" y="300.7" font-size="12" text-anchor="middle">280</text>
<line x1="673.8" y1="285.2" x2="673.8" y2="282.4" stroke="#b4b4b4" stroke-width="0.9"/>
<text class="s" x="673.8" y="300.7" font-size="12" text-anchor="middle">320</text>
<line x1="405.8" y1="285.2" x2="408.6" y2="285.2" stroke="#b4b4b4" stroke-width="0.9"/>
<text class="s" x="401.8" y="290.1" font-size="12.5" text-anchor="end">297.92</text>
<line x1="405.8" y1="260.1" x2="408.6" y2="260.1" stroke="#b4b4b4" stroke-width="0.9"/>
<text class="s" x="401.8" y="265.0" font-size="12.5" text-anchor="end">297.96</text>
<line x1="405.8" y1="235.0" x2="408.6" y2="235.0" stroke="#b4b4b4" stroke-width="0.9"/>
<text class="s" x="401.8" y="239.9" font-size="12.5" text-anchor="end">298</text>
<line x1="405.8" y1="209.9" x2="408.6" y2="209.9" stroke="#b4b4b4" stroke-width="0.9"/>
<text class="s" x="401.8" y="214.8" font-size="12.5" text-anchor="end">298.04</text>
<line x1="405.8" y1="184.8" x2="408.6" y2="184.8" stroke="#b4b4b4" stroke-width="0.9"/>
<text class="s" x="401.8" y="189.7" font-size="12.5" text-anchor="end">298.08</text>
<line x1="405.8" y1="159.8" x2="408.6" y2="159.8" stroke="#b4b4b4" stroke-width="0.9"/>
<text class="s" x="401.8" y="164.7" font-size="12.5" text-anchor="end">298.12</text>
<text class="s" x="528.2" y="317.0" font-size="14.2">Time (s)</text>
<text class="s" font-size="14.3" text-anchor="middle" transform="translate(362.6,222.4) rotate(-90)">T (K)</text>
<path d="M405.80,235.00 L405.86,235.67 L405.92,236.33 L405.97,236.98 L406.02,237.63 L406.08,238.28 L406.13,238.93 L406.19,239.58 L406.24,240.24 L406.30,240.91 L406.36,241.58 L406.42,242.27 L406.49,242.96 L406.56,243.68 L406.64,244.40 L406.72,245.21 L406.81,246.14 L406.90,247.16 L407.00,248.24 L407.10,249.35 L407.20,250.46 L407.31,251.54 L407.41,252.55 L407.52,253.48 L407.62,254.29 L407.71,254.94 L407.81,255.41 L407.90,255.67 L407.98,255.69 L408.05,255.45 L408.12,254.97 L408.19,254.27 L408.25,253.40 L408.31,252.37 L408.37,251.23 L408.43,249.99 L408.48,248.69 L408.54,247.36 L408.59,246.03 L408.64,244.72 L408.70,243.47 L408.76,242.31 L408.81,241.27 L408.88,240.28 L408.94,239.25 L409.00,238.20 L409.06,237.15 L409.12,236.09 L409.19,235.05 L409.25,234.02 L409.31,233.04 L409.37,232.09 L409.43,231.20 L409.49,230.38 L409.55,229.63 L409.60,228.98 L409.65,228.42 L409.70,227.96 L409.75,227.58 L409.79,227.28 L409.84,227.06 L409.88,226.90 L409.92,226.79 L409.96,226.74 L410.00,226.72 L410.04,226.74 L410.08,226.79 L410.12,226.85 L410.16,226.93 L410.20,227.02 L410.24,227.10 L410.28,227.21 L410.32,227.37 L410.37,227.58 L410.41,227.84 L410.45,228.12 L410.49,228.42 L410.54,228.73 L410.58,229.05 L410.62,229.37 L410.66,229.68 L410.70,229.96 L410.75,230.22 L410.79,230.44 L410.82,230.61 L410.86,230.77 L410.90,230.93 L410.94,231.11 L410.97,231.27 L411.00,231.43 L411.04,231.58 L411.07,231.69 L411.10,231.78 L411.14,231.83 L411.17,231.83 L411.21,231.78 L411.25,231.67 L411.29,231.49 L411.33,231.24 L411.37,230.92 L411.41,230.54 L411.46,230.10 L411.51,229.62 L411.55,229.08 L411.60,228.50 L411.65,227.87 L411.70,227.20 L411.75,226.49 L411.80,225.74 L411.85,224.97 L411.90,224.16 L411.95,223.32 L412.00,222.46 L412.04,221.57 L412.09,220.64 L412.14,219.67 L412.18,218.67 L412.23,217.63 L412.28,216.55 L412.32,215.45 L412.37,214.30 L412.42,213.13 L412.46,211.92 L412.51,210.68 L412.56,209.41 L412.61,208.11 L412.67,206.78 L412.72,205.38 L412.78,203.86 L412.83,202.25 L412.89,200.57 L412.95,198.84 L413.01,197.09 L413.07,195.34 L413.13,193.61 L413.19,191.92 L413.25,190.29 L413.32,188.74 L413.38,187.31 L413.44,186.00 L413.50,184.84 L413.57,183.81 L413.63,182.85 L413.70,181.98 L413.76,181.18 L413.83,180.45 L413.89,179.79 L413.96,179.20 L414.03,178.67 L414.09,178.20 L414.16,177.79 L414.23,177.44 L414.29,177.14 L414.36,176.89 L414.43,176.69 L414.49,176.56 L414.56,176.51 L414.62,176.55 L414.69,176.65 L414.75,176.82 L414.82,177.05 L414.88,177.32 L414.95,177.62 L415.01,177.96 L415.08,178.33 L415.14,178.70 L415.21,179.08 L415.28,179.46 L415.35,179.82 L415.42,180.23 L415.49,180.71 L415.56,181.26 L415.63,181.85 L415.71,182.47 L415.78,183.11 L415.86,183.74 L415.93,184.36 L416.00,184.94 L416.08,185.46 L416.15,185.92 L416.22,186.30 L416.29,186.57 L416.35,186.72 L416.42,186.76 L416.48,186.71 L416.54,186.58 L416.59,186.38 L416.65,186.11 L416.71,185.79 L416.76,185.43 L416.82,185.02 L416.87,184.59 L416.93,184.14 L416.99,183.68 L417.05,183.22 L417.12,182.77 L417.19,182.33 L417.26,181.88 L417.34,181.39 L417.41,180.85 L417.49,180.29 L417.57,179.71 L417.65,179.12 L417.73,178.52 L417.82,177.92 L417.91,177.33 L417.99,176.76 L418.08,176.21 L418.17,175.70 L418.27,175.23 L418.36,174.81 L418.46,174.42 L418.56,174.04 L418.67,173.67 L418.78,173.32 L418.89,172.98 L419.00,172.67 L419.11,172.38 L419.22,172.12 L419.34,171.89 L419.45,171.69 L419.56,171.53 L419.66,171.41 L419.77,171.33 L419.87,171.30 L419.97,171.32 L420.07,171.41 L420.16,171.56 L420.26,171.75 L420.36,171.98 L420.45,172.25 L420.55,172.54 L420.64,172.84 L420.72,173.15 L420.81,173.46 L420.89,173.75 L420.98,174.03 L421.05,174.28 L421.13,174.49 L421.20,174.69 L421.26,174.88 L421.32,175.07 L421.38,175.26 L421.43,175.44 L421.48,175.62 L421.53,175.79 L421.58,175.95 L421.63,176.11 L421.67,176.25 L421.72,176.38 L421.77,176.50 L421.82,176.60 L421.88,176.69 L421.94,176.75 L421.99,176.79 L422.05,176.80 L422.11,176.79 L422.16,176.77 L422.22,176.74 L422.28,176.71 L422.34,176.67 L422.40,176.64 L422.46,176.62 L422.52,176.60 L422.58,176.61 L422.65,176.64 L422.72,176.69 L422.79,176.76 L422.85,176.83 L422.92,176.91 L422.98,177.00 L423.05,177.09 L423.11,177.20 L423.18,177.32 L423.26,177.45 L423.33,177.59 L423.41,177.75 L423.50,177.93 L423.60,178.12 L423.70,178.33 L423.81,178.57 L423.92,178.83 L424.05,179.12 L424.18,179.43 L424.32,179.76 L424.46,180.10 L424.61,180.47 L424.76,180.84 L424.92,181.23 L425.08,181.62 L425.24,182.02 L425.41,182.41 L425.57,182.81 L425.74,183.20 L425.90,183.59 L426.07,183.98 L426.24,184.38 L426.42,184.80 L426.59,185.23 L426.78,185.67 L426.96,186.11 L427.15,186.54 L427.33,186.98 L427.52,187.40 L427.70,187.80 L427.88,188.20 L428.06,188.57 L428.24,188.91 L428.41,189.23 L428.58,189.52 L428.74,189.79 L428.90,190.05 L429.06,190.29 L429.22,190.51 L429.37,190.72 L429.53,190.91 L429.68,191.10 L429.84,191.27 L430.00,191.44 L430.16,191.60 L430.33,191.75 L430.50,191.90 L430.67,192.05 L430.86,192.19 L431.04,192.32 L431.24,192.43 L431.43,192.54 L431.63,192.64 L431.84,192.73 L432.04,192.81 L432.24,192.89 L432.45,192.97 L432.65,193.04 L432.85,193.11 L433.05,193.17 L433.25,193.24 L433.44,193.30 L433.62,193.37 L433.80,193.43 L433.98,193.49 L434.16,193.54 L434.33,193.59 L434.50,193.63 L434.67,193.68 L434.85,193.72 L435.02,193.76 L435.20,193.79 L435.38,193.83 L435.56,193.86 L435.75,193.90 L435.95,193.93 L436.15,193.96 L436.36,193.99 L436.58,194.02 L436.79,194.04 L437.01,194.07 L437.24,194.09 L437.46,194.11 L437.69,194.13 L437.92,194.15 L438.15,194.16 L438.37,194.18 L438.60,194.20 L438.83,194.22 L439.05,194.25" fill="none" stroke="#ff1a1a" stroke-width="1.10" stroke-linejoin="round"/>
<path d="M439.30,235.00 L439.34,235.36 L439.37,235.73 L439.41,236.11 L439.45,236.49 L439.48,236.87 L439.52,237.25 L439.56,237.63 L439.59,238.00 L439.63,238.36 L439.67,238.72 L439.70,239.07 L439.74,239.40 L439.77,239.72 L439.80,240.02 L439.83,240.33 L439.87,240.69 L439.90,241.07 L439.93,241.47 L439.95,241.87 L439.98,242.25 L440.01,242.60 L440.04,242.92 L440.07,243.17 L440.10,243.36 L440.13,243.47 L440.16,243.48 L440.19,243.38 L440.22,243.15 L440.25,242.83 L440.29,242.44 L440.32,241.99 L440.36,241.47 L440.39,240.88 L440.43,240.21 L440.46,239.47 L440.50,238.64 L440.53,237.74 L440.57,236.74 L440.61,235.66 L440.65,234.49 L440.69,233.23 L440.72,231.87 L440.76,230.33 L440.80,228.57 L440.84,226.62 L440.89,224.53 L440.93,222.32 L440.97,220.04 L441.01,217.72 L441.05,215.40 L441.10,213.13 L441.14,210.93 L441.18,208.84 L441.23,206.91 L441.27,205.16 L441.31,203.65 L441.35,202.30 L441.39,201.05 L441.44,199.88 L441.48,198.79 L441.52,197.80 L441.56,196.90 L441.60,196.09 L441.64,195.37 L441.69,194.74 L441.73,194.20 L441.77,193.76 L441.81,193.41 L441.85,193.15 L441.90,192.99 L441.94,192.94 L441.98,193.01 L442.02,193.20 L442.06,193.49 L442.10,193.87 L442.14,194.35 L442.18,194.91 L442.23,195.55 L442.27,196.25 L442.31,197.01 L442.35,197.83 L442.39,198.69 L442.44,199.59 L442.48,200.51 L442.53,201.54 L442.57,202.71 L442.62,204.00 L442.67,205.39 L442.71,206.85 L442.76,208.37 L442.81,209.90 L442.86,211.44 L442.90,212.96 L442.95,214.43 L443.00,215.82 L443.05,217.12 L443.10,218.29 L443.15,219.33 L443.20,220.26 L443.26,221.18 L443.31,222.06 L443.36,222.90 L443.42,223.68 L443.47,224.41 L443.53,225.07 L443.58,225.65 L443.64,226.15 L443.69,226.56 L443.75,226.87 L443.80,227.07 L443.85,227.15 L443.91,227.10 L443.96,226.93 L444.01,226.63 L444.06,226.23 L444.10,225.72 L444.15,225.11 L444.20,224.41 L444.25,223.62 L444.29,222.75 L444.34,221.81 L444.39,220.79 L444.43,219.72 L444.48,218.59 L444.53,217.41 L444.58,216.19 L444.62,214.85 L444.67,213.32 L444.72,211.64 L444.77,209.85 L444.82,207.97 L444.86,206.03 L444.91,204.07 L444.96,202.11 L445.01,200.20 L445.05,198.36 L445.10,196.62 L445.15,195.03 L445.20,193.59 L445.25,192.36 L445.29,191.28 L445.34,190.26 L445.39,189.31 L445.44,188.44 L445.49,187.65 L445.54,186.95 L445.59,186.33 L445.63,185.81 L445.68,185.38 L445.73,185.05 L445.78,184.83 L445.82,184.72 L445.87,184.72 L445.92,184.84 L445.96,185.06 L446.01,185.36 L446.05,185.75 L446.09,186.23 L446.14,186.81 L446.18,187.49 L446.22,188.29 L446.26,189.20 L446.30,190.23 L446.34,191.38 L446.38,192.67 L446.42,194.10 L446.46,195.66 L446.50,197.38 L446.54,199.33 L446.58,201.58 L446.62,204.08 L446.65,206.78 L446.69,209.63 L446.72,212.60 L446.76,215.64 L446.79,218.70 L446.83,221.74 L446.86,224.71 L446.90,227.56 L446.93,230.26 L446.97,232.76 L447.00,235.00 L447.04,237.07 L447.08,239.06 L447.11,240.98 L447.15,242.82 L447.18,244.57 L447.22,246.25 L447.25,247.83 L447.29,249.33 L447.32,250.74 L447.36,252.05 L447.39,253.27 L447.43,254.39 L447.47,255.40 L447.51,256.32 L447.55,257.11 L447.58,257.77 L447.62,258.32 L447.66,258.75 L447.70,259.08 L447.74,259.31 L447.78,259.47 L447.82,259.56 L447.86,259.58 L447.91,259.56 L447.95,259.49 L448.00,259.39 L448.04,259.27 L448.09,259.14 L448.14,258.97 L448.20,258.73 L448.25,258.44 L448.30,258.08 L448.36,257.68 L448.41,257.22 L448.47,256.73 L448.53,256.20 L448.59,255.64 L448.65,255.05 L448.72,254.45 L448.79,253.83 L448.86,253.19 L448.93,252.56 L449.01,251.88 L449.09,251.12 L449.17,250.31 L449.26,249.45 L449.35,248.56 L449.44,247.64 L449.54,246.72 L449.63,245.81 L449.73,244.92 L449.82,244.07 L449.92,243.26 L450.01,242.52 L450.10,241.85 L450.19,241.27 L450.27,240.75 L450.36,240.26 L450.44,239.81 L450.52,239.39 L450.61,239.00 L450.69,238.66 L450.77,238.36 L450.85,238.10 L450.93,237.90 L451.02,237.74 L451.10,237.64 L451.18,237.60 L451.27,237.62 L451.36,237.70 L451.45,237.85 L451.54,238.07 L451.63,238.36 L451.72,238.71 L451.81,239.12 L451.90,239.58 L452.00,240.08 L452.09,240.63 L452.19,241.20 L452.29,241.81 L452.39,242.44 L452.49,243.08 L452.59,243.74 L452.70,244.40 L452.81,245.11 L452.92,245.89 L453.03,246.73 L453.14,247.61 L453.26,248.53 L453.38,249.48 L453.50,250.43 L453.62,251.38 L453.74,252.31 L453.86,253.22 L453.99,254.09 L454.12,254.90 L454.24,255.65 L454.38,256.32 L454.51,256.93 L454.65,257.49 L454.79,258.03 L454.93,258.52 L455.08,258.99 L455.23,259.42 L455.37,259.83 L455.52,260.20 L455.67,260.55 L455.82,260.87 L455.96,261.18 L456.11,261.46 L456.25,261.72 L456.38,261.96 L456.52,262.18 L456.65,262.36 L456.78,262.51 L456.91,262.63 L457.04,262.72 L457.16,262.79 L457.29,262.84 L457.41,262.88 L457.53,262.90 L457.65,262.91 L457.78,262.91 L457.90,262.91 L458.02,262.90 L458.14,262.90 L458.26,262.90 L458.38,262.88 L458.49,262.85 L458.60,262.82 L458.71,262.77 L458.82,262.71 L458.93,262.65 L459.05,262.57 L459.16,262.49 L459.28,262.40 L459.41,262.30 L459.54,262.19 L459.67,262.08 L459.82,261.96 L459.97,261.83 L460.13,261.69 L460.30,261.54 L460.48,261.38 L460.65,261.21 L460.84,261.03 L461.02,260.84 L461.21,260.65 L461.40,260.46 L461.59,260.26 L461.78,260.06 L461.96,259.86 L462.15,259.66 L462.33,259.45 L462.51,259.25 L462.69,259.06 L462.88,258.87 L463.06,258.68 L463.25,258.48 L463.43,258.28 L463.61,258.08 L463.80,257.87 L463.98,257.65 L464.16,257.41 L464.33,257.17 L464.51,256.90 L464.68,256.62 L464.84,256.32 L465.01,255.99 L465.16,255.64 L465.32,255.26 L465.47,254.87 L465.61,254.46 L465.76,254.04 L465.90,253.61 L466.04,253.18 L466.19,252.75 L466.33,252.31 L466.48,251.89 L466.63,251.47 L466.78,251.06 L466.94,250.67 L467.10,250.28 L467.26,249.87 L467.43,249.43 L467.60,249.00 L467.78,248.55 L467.95,248.12 L468.13,247.70 L468.30,247.29 L468.47,246.92 L468.64,246.57 L468.81,246.27 L468.97,246.01 L469.13,245.80 L469.28,245.66 L469.43,245.58 L469.58,245.57 L469.72,245.61 L469.86,245.69 L470.00,245.82 L470.13,245.98 L470.27,246.17 L470.40,246.37 L470.52,246.59 L470.65,246.80 L470.77,247.01 L470.89,247.21 L471.01,247.39 L471.12,247.54 L471.24,247.67 L471.34,247.81 L471.45,247.94 L471.54,248.08 L471.64,248.21 L471.73,248.35 L471.83,248.48 L471.92,248.61 L472.01,248.75 L472.10,248.88 L472.19,249.02 L472.28,249.15 L472.37,249.29 L472.47,249.42" fill="none" stroke="#1a1aff" stroke-width="1.10" stroke-linejoin="round"/>
<path d="M472.80,235.00 L472.82,234.59 L472.84,234.16 L472.86,233.73 L472.88,233.29 L472.90,232.85 L472.92,232.40 L472.94,231.97 L472.96,231.54 L472.98,231.12 L473.00,230.72 L473.02,230.34 L473.05,229.99 L473.07,229.66 L473.09,229.36 L473.12,229.07 L473.14,228.77 L473.17,228.47 L473.19,228.17 L473.22,227.88 L473.24,227.62 L473.27,227.38 L473.30,227.18 L473.32,227.02 L473.35,226.91 L473.38,226.85 L473.41,226.86 L473.44,226.94 L473.47,227.10 L473.50,227.32 L473.53,227.57 L473.57,227.87 L473.60,228.21 L473.63,228.60 L473.67,229.04 L473.70,229.54 L473.74,230.10 L473.78,230.73 L473.81,231.42 L473.85,232.19 L473.89,233.05 L473.93,233.98 L473.97,235.00 L474.02,236.16 L474.06,237.47 L474.10,238.93 L474.15,240.49 L474.20,242.15 L474.25,243.87 L474.30,245.62 L474.35,247.40 L474.40,249.16 L474.45,250.88 L474.50,252.55 L474.55,254.13 L474.59,255.60 L474.64,256.95 L474.69,258.22 L474.74,259.52 L474.79,260.82 L474.83,262.11 L474.88,263.36 L474.93,264.56 L474.98,265.70 L475.03,266.76 L475.07,267.72 L475.12,268.56 L475.17,269.27 L475.22,269.82 L475.26,270.22 L475.31,270.43 L475.36,270.44 L475.41,270.26 L475.45,269.91 L475.50,269.42 L475.55,268.78 L475.60,268.04 L475.64,267.19 L475.69,266.27 L475.74,265.28 L475.78,264.26 L475.83,263.20 L475.88,262.14 L475.93,261.10 L475.98,260.08 L476.03,259.02 L476.09,257.84 L476.14,256.56 L476.20,255.21 L476.25,253.80 L476.31,252.37 L476.36,250.93 L476.42,249.51 L476.48,248.12 L476.53,246.79 L476.58,245.55 L476.64,244.40 L476.69,243.39 L476.74,242.52 L476.78,241.78 L476.83,241.11 L476.87,240.52 L476.91,240.00 L476.95,239.55 L476.99,239.16 L477.03,238.84 L477.07,238.58 L477.11,238.38 L477.15,238.23 L477.19,238.13 L477.24,238.09 L477.28,238.09 L477.32,238.13 L477.37,238.24 L477.41,238.40 L477.46,238.63 L477.51,238.91 L477.56,239.25 L477.60,239.65 L477.65,240.09 L477.70,240.59 L477.75,241.13 L477.80,241.71 L477.85,242.33 L477.90,242.99 L477.94,243.68 L477.99,244.40 L478.04,245.20 L478.09,246.11 L478.14,247.10 L478.19,248.17 L478.24,249.29 L478.28,250.44 L478.33,251.62 L478.38,252.79 L478.43,253.94 L478.48,255.06 L478.52,256.13 L478.57,257.12 L478.62,258.03 L478.66,258.83 L478.71,259.57 L478.75,260.33 L478.80,261.08 L478.84,261.81 L478.88,262.52 L478.92,263.17 L478.97,263.76 L479.01,264.28 L479.05,264.72 L479.09,265.05 L479.13,265.27 L479.17,265.36 L479.21,265.30 L479.25,265.10 L479.29,264.75 L479.32,264.30 L479.36,263.74 L479.40,263.07 L479.43,262.30 L479.47,261.42 L479.51,260.43 L479.54,259.35 L479.58,258.15 L479.61,256.86 L479.65,255.47 L479.68,253.97 L479.72,252.37 L479.75,250.67 L479.79,248.79 L479.82,246.64 L479.86,244.28 L479.89,241.75 L479.93,239.09 L479.96,236.35 L480.00,233.55 L480.03,230.75 L480.07,227.99 L480.10,225.30 L480.14,222.74 L480.18,220.34 L480.22,218.14 L480.25,216.19 L480.29,214.43 L480.33,212.77 L480.37,211.21 L480.41,209.75 L480.45,208.38 L480.49,207.11 L480.53,205.92 L480.57,204.82 L480.61,203.81 L480.65,202.87 L480.70,202.02 L480.74,201.24 L480.79,200.53 L480.84,199.89 L480.89,199.35 L480.94,198.93 L481.00,198.63 L481.05,198.42 L481.11,198.30 L481.16,198.26 L481.22,198.28 L481.28,198.36 L481.34,198.47 L481.41,198.62 L481.47,198.78 L481.54,198.95 L481.61,199.11 L481.68,199.26 L481.75,199.42 L481.82,199.63 L481.89,199.88 L481.97,200.16 L482.04,200.47 L482.12,200.81 L482.20,201.16 L482.28,201.53 L482.36,201.90 L482.45,202.27 L482.54,202.64 L482.64,203.00 L482.74,203.33 L482.85,203.65 L482.96,203.97 L483.09,204.30 L483.21,204.66 L483.35,205.02 L483.49,205.39 L483.63,205.75 L483.77,206.10 L483.92,206.43 L484.06,206.75 L484.21,207.03 L484.36,207.27 L484.50,207.48 L484.64,207.63 L484.78,207.73 L484.91,207.77 L485.05,207.77 L485.18,207.72 L485.31,207.64 L485.45,207.52 L485.58,207.37 L485.71,207.20 L485.85,207.00 L485.98,206.78 L486.11,206.55 L486.24,206.30 L486.37,206.05 L486.49,205.79 L486.62,205.53 L486.74,205.25 L486.87,204.94 L486.99,204.59 L487.12,204.21 L487.24,203.82 L487.36,203.41 L487.48,203.00 L487.60,202.59 L487.72,202.19 L487.84,201.80 L487.95,201.43 L488.07,201.09 L488.18,200.78 L488.29,200.51 L488.40,200.28 L488.51,200.05 L488.61,199.84 L488.72,199.64 L488.82,199.46 L488.92,199.29 L489.02,199.14 L489.11,199.01 L489.21,198.90 L489.31,198.81 L489.41,198.73 L489.51,198.68 L489.61,198.65 L489.72,198.63 L489.82,198.65 L489.93,198.71 L490.03,198.80 L490.14,198.92 L490.24,199.05 L490.35,199.21 L490.46,199.38 L490.56,199.56 L490.67,199.74 L490.78,199.91 L490.89,200.09 L491.00,200.25 L491.11,200.39 L491.23,200.51 L491.34,200.63 L491.46,200.74 L491.57,200.85 L491.69,200.96 L491.81,201.07 L491.93,201.18 L492.05,201.28 L492.17,201.37 L492.29,201.46 L492.42,201.54 L492.54,201.62 L492.66,201.68 L492.78,201.73 L492.90,201.77 L493.02,201.79 L493.14,201.78 L493.25,201.75 L493.37,201.70 L493.48,201.64 L493.60,201.58 L493.71,201.51 L493.83,201.45 L493.95,201.40 L494.07,201.36 L494.19,201.34 L494.31,201.35 L494.44,201.39 L494.58,201.46 L494.71,201.56 L494.86,201.70 L495.01,201.86 L495.16,202.05 L495.31,202.26 L495.47,202.48 L495.63,202.71 L495.78,202.95 L495.94,203.19 L496.09,203.43 L496.25,203.66 L496.39,203.88 L496.53,204.09 L496.67,204.28 L496.80,204.45 L496.92,204.61 L497.03,204.77 L497.14,204.91 L497.25,205.06 L497.36,205.20 L497.46,205.34 L497.56,205.48 L497.67,205.62 L497.78,205.77 L497.89,205.93 L498.01,206.10 L498.13,206.28 L498.26,206.47 L498.40,206.68 L498.54,206.91 L498.69,207.14 L498.84,207.39 L499.00,207.65 L499.16,207.91 L499.32,208.18 L499.48,208.44 L499.64,208.71 L499.80,208.97 L499.97,209.22 L500.13,209.47 L500.28,209.70 L500.44,209.92 L500.59,210.13 L500.74,210.35 L500.89,210.56 L501.05,210.77 L501.20,210.98 L501.35,211.18 L501.50,211.37 L501.65,211.56 L501.80,211.73 L501.95,211.90 L502.10,212.05 L502.24,212.19 L502.39,212.32 L502.53,212.43 L502.67,212.52 L502.82,212.61 L502.96,212.69 L503.10,212.75 L503.24,212.80 L503.38,212.85 L503.52,212.88 L503.66,212.90 L503.79,212.90 L503.93,212.90 L504.06,212.88 L504.20,212.85 L504.33,212.80 L504.46,212.74 L504.58,212.66 L504.71,212.56 L504.83,212.44 L504.95,212.30 L505.07,212.14 L505.19,211.98 L505.31,211.80 L505.43,211.62 L505.54,211.43 L505.66,211.25 L505.78,211.06 L505.90,210.88 L506.01,210.71 L506.13,210.55" fill="none" stroke="#ff1a1a" stroke-width="1.10" stroke-linejoin="round"/>
<path d="M506.30,235.00 L506.34,235.32 L506.37,235.64 L506.41,235.97 L506.45,236.31 L506.48,236.64 L506.52,236.98 L506.56,237.31 L506.59,237.64 L506.63,237.96 L506.67,238.27 L506.70,238.57 L506.74,238.86 L506.77,239.13 L506.80,239.39 L506.83,239.65 L506.87,239.94 L506.90,240.25 L506.93,240.57 L506.96,240.89 L506.99,241.19 L507.02,241.47 L507.05,241.71 L507.08,241.91 L507.10,242.06 L507.13,242.14 L507.16,242.15 L507.19,242.07 L507.22,241.90 L507.25,241.66 L507.28,241.39 L507.31,241.08 L507.34,240.72 L507.37,240.31 L507.40,239.85 L507.43,239.31 L507.45,238.70 L507.48,238.01 L507.51,237.24 L507.54,236.36 L507.58,235.39 L507.61,234.31 L507.64,233.12 L507.67,231.74 L507.71,230.12 L507.74,228.32 L507.78,226.36 L507.81,224.29 L507.85,222.14 L507.88,219.95 L507.92,217.76 L507.95,215.61 L507.99,213.54 L508.03,211.58 L508.07,209.78 L508.10,208.17 L508.14,206.78 L508.18,205.58 L508.22,204.47 L508.26,203.46 L508.30,202.54 L508.35,201.71 L508.39,200.97 L508.43,200.32 L508.47,199.75 L508.52,199.27 L508.56,198.86 L508.60,198.53 L508.64,198.28 L508.69,198.11 L508.73,198.01 L508.77,198.00 L508.81,198.10 L508.85,198.30 L508.90,198.60 L508.94,198.98 L508.98,199.44 L509.02,199.97 L509.06,200.56 L509.11,201.20 L509.15,201.88 L509.19,202.60 L509.23,203.35 L509.27,204.12 L509.31,204.90 L509.36,205.75 L509.40,206.70 L509.44,207.73 L509.48,208.84 L509.52,210.00 L509.56,211.20 L509.60,212.41 L509.64,213.63 L509.69,214.83 L509.73,215.99 L509.77,217.10 L509.81,218.15 L509.86,219.10 L509.90,219.95 L509.95,220.74 L509.99,221.52 L510.04,222.28 L510.09,223.01 L510.13,223.70 L510.18,224.35 L510.23,224.95 L510.28,225.50 L510.33,225.97 L510.38,226.38 L510.43,226.70 L510.47,226.93 L510.52,227.07 L510.57,227.10 L510.62,227.02 L510.67,226.84 L510.71,226.56 L510.76,226.20 L510.81,225.75 L510.86,225.23 L510.91,224.64 L510.95,223.99 L511.00,223.30 L511.05,222.56 L511.10,221.78 L511.15,220.98 L511.19,220.16 L511.24,219.33 L511.29,218.42 L511.34,217.40 L511.39,216.27 L511.44,215.07 L511.48,213.82 L511.53,212.53 L511.58,211.24 L511.63,209.95 L511.68,208.69 L511.73,207.49 L511.77,206.36 L511.82,205.33 L511.87,204.42 L511.91,203.65 L511.96,202.98 L512.00,202.37 L512.04,201.81 L512.09,201.30 L512.13,200.86 L512.17,200.48 L512.21,200.16 L512.26,199.91 L512.30,199.73 L512.34,199.61 L512.38,199.57 L512.42,199.60 L512.46,199.70 L512.50,199.89 L512.54,200.13 L512.57,200.41 L512.61,200.74 L512.65,201.13 L512.68,201.58 L512.72,202.10 L512.75,202.71 L512.79,203.41 L512.82,204.20 L512.86,205.10 L512.89,206.11 L512.93,207.25 L512.96,208.51 L513.00,209.92 L513.04,211.53 L513.07,213.36 L513.11,215.40 L513.14,217.60 L513.18,219.93 L513.22,222.36 L513.25,224.85 L513.29,227.37 L513.32,229.89 L513.36,232.38 L513.39,234.79 L513.43,237.10 L513.47,239.27 L513.50,241.27 L513.54,243.17 L513.57,245.06 L513.61,246.92 L513.65,248.75 L513.68,250.54 L513.72,252.27 L513.75,253.95 L513.79,255.56 L513.83,257.09 L513.86,258.53 L513.90,259.87 L513.93,261.10 L513.97,262.22 L514.00,263.22 L514.04,264.07 L514.07,264.79 L514.11,265.38 L514.14,265.87 L514.17,266.25 L514.20,266.54 L514.24,266.77 L514.27,266.92 L514.30,267.03 L514.34,267.10 L514.38,267.14 L514.42,267.17 L514.46,267.19 L514.51,267.23 L514.56,267.25 L514.61,267.24 L514.66,267.18 L514.71,267.09 L514.76,266.96 L514.82,266.80 L514.88,266.61 L514.94,266.38 L515.00,266.13 L515.07,265.85 L515.13,265.54 L515.20,265.21 L515.27,264.85 L515.35,264.47 L515.42,264.04 L515.50,263.55 L515.58,263.00 L515.67,262.41 L515.76,261.78 L515.85,261.12 L515.94,260.46 L516.04,259.79 L516.13,259.13 L516.22,258.48 L516.32,257.87 L516.41,257.30 L516.51,256.78 L516.60,256.32 L516.69,255.89 L516.79,255.47 L516.88,255.06 L516.98,254.67 L517.07,254.29 L517.17,253.94 L517.27,253.61 L517.36,253.32 L517.46,253.07 L517.56,252.86 L517.65,252.70 L517.75,252.59 L517.85,252.54 L517.94,252.56 L518.04,252.64 L518.13,252.79 L518.22,253.00 L518.31,253.28 L518.41,253.60 L518.50,253.96 L518.59,254.36 L518.68,254.79 L518.78,255.24 L518.87,255.70 L518.97,256.17 L519.07,256.65 L519.18,257.12 L519.28,257.57 L519.39,258.04 L519.50,258.56 L519.62,259.11 L519.74,259.69 L519.85,260.28 L519.98,260.88 L520.10,261.49 L520.22,262.09 L520.34,262.68 L520.47,263.24 L520.59,263.77 L520.71,264.26 L520.84,264.71 L520.96,265.10 L521.07,265.43 L521.19,265.74 L521.31,266.00 L521.42,266.24 L521.54,266.45 L521.65,266.64 L521.77,266.80 L521.88,266.95 L522.00,267.08 L522.12,267.19 L522.24,267.30 L522.37,267.40 L522.50,267.50 L522.63,267.60 L522.77,267.70 L522.91,267.77 L523.05,267.84 L523.20,267.89 L523.35,267.93 L523.50,267.96 L523.65,267.98 L523.81,267.99 L523.96,267.99 L524.11,267.98 L524.27,267.97 L524.42,267.96 L524.57,267.94 L524.73,267.92 L524.87,267.89 L525.02,267.87 L525.17,267.84 L525.31,267.80 L525.46,267.76 L525.60,267.72 L525.75,267.66 L525.89,267.60 L526.04,267.53 L526.19,267.44 L526.34,267.35 L526.50,267.24 L526.66,267.11 L526.82,266.98 L526.99,266.82 L527.16,266.64 L527.34,266.44 L527.52,266.23 L527.71,266.01 L527.90,265.77 L528.09,265.53 L528.27,265.28 L528.46,265.03 L528.64,264.78 L528.82,264.53 L529.00,264.29 L529.17,264.06 L529.33,263.84 L529.49,263.64 L529.63,263.44 L529.78,263.25 L529.91,263.07 L530.05,262.89 L530.18,262.71 L530.31,262.53 L530.44,262.34 L530.57,262.15 L530.70,261.95 L530.83,261.74 L530.97,261.52 L531.11,261.28 L531.26,261.02 L531.41,260.74 L531.57,260.43 L531.73,260.10 L531.89,259.75 L532.05,259.39 L532.22,259.02 L532.39,258.65 L532.56,258.28 L532.72,257.91 L532.89,257.56 L533.05,257.21 L533.21,256.89 L533.37,256.59 L533.52,256.32 L533.67,256.06 L533.81,255.81 L533.96,255.57 L534.10,255.34 L534.23,255.12 L534.37,254.91 L534.51,254.71 L534.64,254.53 L534.78,254.36 L534.91,254.21 L535.04,254.08 L535.18,253.97 L535.31,253.88 L535.45,253.81 L535.58,253.77 L535.71,253.75 L535.84,253.76 L535.98,253.79 L536.11,253.84 L536.24,253.91 L536.37,253.99 L536.50,254.08 L536.63,254.18 L536.76,254.29 L536.89,254.40 L537.02,254.52 L537.15,254.64 L537.29,254.75 L537.42,254.87 L537.56,255.00 L537.69,255.14 L537.83,255.29 L537.97,255.44 L538.11,255.60 L538.25,255.77 L538.38,255.94 L538.52,256.11 L538.66,256.28 L538.80,256.45 L538.94,256.62 L539.08,256.79 L539.21,256.95" fill="none" stroke="#1a1aff" stroke-width="1.10" stroke-linejoin="round"/>
<path d="M539.80,235.00 L539.82,234.59 L539.84,234.16 L539.86,233.73 L539.88,233.29 L539.90,232.85 L539.92,232.40 L539.94,231.97 L539.96,231.54 L539.98,231.12 L540.00,230.72 L540.02,230.34 L540.05,229.99 L540.07,229.66 L540.09,229.36 L540.12,229.07 L540.14,228.77 L540.17,228.47 L540.19,228.17 L540.22,227.88 L540.24,227.62 L540.27,227.38 L540.30,227.18 L540.32,227.02 L540.35,226.91 L540.38,226.85 L540.41,226.86 L540.44,226.94 L540.47,227.10 L540.50,227.32 L540.53,227.57 L540.57,227.87 L540.60,228.21 L540.63,228.60 L540.67,229.04 L540.70,229.54 L540.74,230.10 L540.78,230.73 L540.81,231.42 L540.85,232.19 L540.89,233.05 L540.93,233.98 L540.97,235.00 L541.02,236.16 L541.06,237.47 L541.10,238.93 L541.15,240.49 L541.20,242.15 L541.25,243.87 L541.30,245.62 L541.35,247.40 L541.40,249.16 L541.45,250.88 L541.50,252.55 L541.55,254.13 L541.59,255.60 L541.64,256.95 L541.69,258.22 L541.74,259.52 L541.79,260.82 L541.83,262.11 L541.88,263.36 L541.93,264.56 L541.98,265.70 L542.03,266.76 L542.07,267.72 L542.12,268.56 L542.17,269.27 L542.22,269.82 L542.26,270.22 L542.31,270.43 L542.36,270.44 L542.41,270.26 L542.45,269.91 L542.50,269.42 L542.55,268.78 L542.60,268.04 L542.64,267.19 L542.69,266.27 L542.74,265.28 L542.78,264.26 L542.83,263.20 L542.88,262.14 L542.93,261.10 L542.98,260.08 L543.03,259.02 L543.09,257.84 L543.14,256.56 L543.20,255.21 L543.25,253.80 L543.31,252.37 L543.36,250.93 L543.42,249.51 L543.48,248.12 L543.53,246.79 L543.58,245.55 L543.64,244.40 L543.69,243.39 L543.74,242.52 L543.78,241.78 L543.83,241.11 L543.87,240.52 L543.91,240.00 L543.95,239.55 L543.99,239.16 L544.03,238.84 L544.07,238.58 L544.11,238.38 L544.15,238.23 L544.19,238.13 L544.24,238.09 L544.28,238.09 L544.32,238.13 L544.37,238.22 L544.41,238.36 L544.46,238.55 L544.51,238.78 L544.56,239.07 L544.60,239.42 L544.65,239.82 L544.70,240.28 L544.75,240.80 L544.80,241.39 L544.85,242.04 L544.90,242.76 L544.94,243.55 L544.99,244.40 L545.04,245.39 L545.09,246.54 L545.14,247.83 L545.19,249.23 L545.24,250.71 L545.28,252.25 L545.33,253.81 L545.38,255.37 L545.43,256.91 L545.48,258.39 L545.52,259.79 L545.57,261.08 L545.62,262.23 L545.66,263.22 L545.71,264.11 L545.75,264.99 L545.80,265.84 L545.84,266.65 L545.88,267.41 L545.92,268.10 L545.97,268.70 L546.01,269.21 L546.05,269.61 L546.09,269.89 L546.13,270.03 L546.17,270.02 L546.21,269.84 L546.25,269.49 L546.29,268.95 L546.32,268.25 L546.36,267.40 L546.40,266.40 L546.43,265.26 L546.47,264.00 L546.51,262.63 L546.54,261.15 L546.58,259.58 L546.61,257.92 L546.65,256.19 L546.68,254.40 L546.72,252.56 L546.75,250.67 L546.79,248.65 L546.82,246.39 L546.86,243.95 L546.89,241.37 L546.93,238.68 L546.96,235.92 L547.00,233.14 L547.03,230.37 L547.07,227.64 L547.10,225.01 L547.14,222.51 L547.18,220.18 L547.22,218.06 L547.25,216.19 L547.29,214.52 L547.33,212.99 L547.37,211.58 L547.41,210.28 L547.45,209.10 L547.49,208.01 L547.53,207.02 L547.57,206.12 L547.61,205.29 L547.65,204.54 L547.70,203.85 L547.74,203.21 L547.79,202.63 L547.84,202.08 L547.89,201.61 L547.94,201.24 L548.00,200.97 L548.05,200.77 L548.11,200.66 L548.16,200.61 L548.22,200.61 L548.28,200.67 L548.34,200.76 L548.41,200.88 L548.47,201.01 L548.54,201.16 L548.61,201.31 L548.68,201.46 L548.75,201.62 L548.82,201.82 L548.89,202.07 L548.97,202.35 L549.04,202.67 L549.12,203.00 L549.20,203.36 L549.28,203.72 L549.36,204.09 L549.45,204.47 L549.54,204.83 L549.64,205.19 L549.74,205.53 L549.85,205.84 L549.96,206.16 L550.09,206.50 L550.21,206.85 L550.35,207.21 L550.49,207.58 L550.63,207.94 L550.77,208.29 L550.92,208.63 L551.06,208.94 L551.21,209.22 L551.36,209.47 L551.50,209.67 L551.64,209.82 L551.78,209.92 L551.91,209.96 L552.05,209.96 L552.18,209.92 L552.31,209.83 L552.45,209.71 L552.58,209.57 L552.71,209.39 L552.85,209.19 L552.98,208.97 L553.11,208.74 L553.24,208.50 L553.37,208.24 L553.49,207.98 L553.62,207.73 L553.74,207.45 L553.87,207.13 L553.99,206.78 L554.12,206.41 L554.24,206.01 L554.36,205.61 L554.48,205.20 L554.60,204.79 L554.72,204.39 L554.84,204.00 L554.95,203.63 L555.07,203.29 L555.18,202.98 L555.29,202.71 L555.40,202.47 L555.51,202.24 L555.61,202.03 L555.72,201.83 L555.82,201.65 L555.92,201.49 L556.02,201.34 L556.11,201.21 L556.21,201.09 L556.31,201.00 L556.41,200.93 L556.51,200.87 L556.61,200.84 L556.72,200.83 L556.82,200.85 L556.93,200.91 L557.03,200.99 L557.14,201.11 L557.24,201.25 L557.35,201.40 L557.46,201.57 L557.56,201.75 L557.67,201.93 L557.78,202.11 L557.89,202.28 L558.00,202.44 L558.11,202.59 L558.23,202.71 L558.34,202.82 L558.46,202.94 L558.57,203.05 L558.69,203.16 L558.81,203.27 L558.93,203.37 L559.05,203.47 L559.17,203.57 L559.29,203.66 L559.42,203.74 L559.54,203.81 L559.66,203.87 L559.78,203.92 L559.90,203.96 L560.02,203.98 L560.14,203.97 L560.25,203.94 L560.37,203.90 L560.48,203.84 L560.60,203.77 L560.71,203.71 L560.83,203.65 L560.95,203.59 L561.07,203.56 L561.19,203.54 L561.31,203.54 L561.44,203.58 L561.58,203.65 L561.71,203.76 L561.86,203.89 L562.01,204.06 L562.16,204.25 L562.31,204.45 L562.47,204.67 L562.63,204.90 L562.78,205.14 L562.94,205.38 L563.09,205.62 L563.25,205.85 L563.39,206.07 L563.53,206.28 L563.67,206.47 L563.80,206.64 L563.92,206.81 L564.03,206.96 L564.14,207.11 L564.25,207.25 L564.36,207.39 L564.46,207.53 L564.56,207.67 L564.67,207.82 L564.78,207.97 L564.89,208.12 L565.01,208.29 L565.13,208.47 L565.26,208.67 L565.40,208.88 L565.54,209.10 L565.69,209.34 L565.84,209.59 L566.00,209.84 L566.16,210.11 L566.32,210.37 L566.48,210.64 L566.64,210.90 L566.80,211.16 L566.97,211.42 L567.13,211.66 L567.28,211.89 L567.44,212.11 L567.59,212.33 L567.74,212.54 L567.89,212.75 L568.05,212.96 L568.20,213.17 L568.35,213.37 L568.50,213.56 L568.65,213.75 L568.80,213.93 L568.95,214.09 L569.10,214.25 L569.24,214.39 L569.39,214.51 L569.53,214.62 L569.67,214.72 L569.82,214.80 L569.96,214.88 L570.10,214.95 L570.24,215.00 L570.38,215.04 L570.52,215.07 L570.66,215.09 L570.79,215.10 L570.93,215.09 L571.06,215.07 L571.20,215.04 L571.33,215.00 L571.46,214.94 L571.58,214.86 L571.71,214.75 L571.83,214.63 L571.95,214.49 L572.07,214.34 L572.19,214.17 L572.31,214.00 L572.43,213.81 L572.54,213.63 L572.66,213.44 L572.78,213.26 L572.90,213.08 L573.01,212.90 L573.13,212.74" fill="none" stroke="#ff1a1a" stroke-width="1.10" stroke-linejoin="round"/>
<path d="M573.30,235.00 L573.34,235.32 L573.37,235.64 L573.41,235.97 L573.45,236.31 L573.48,236.64 L573.52,236.98 L573.56,237.31 L573.59,237.64 L573.63,237.96 L573.67,238.27 L573.70,238.57 L573.74,238.86 L573.77,239.13 L573.80,239.39 L573.83,239.65 L573.87,239.94 L573.90,240.25 L573.93,240.57 L573.96,240.89 L573.99,241.19 L574.02,241.47 L574.05,241.71 L574.08,241.91 L574.10,242.06 L574.13,242.14 L574.16,242.15 L574.19,242.07 L574.22,241.90 L574.25,241.66 L574.28,241.39 L574.31,241.08 L574.34,240.72 L574.37,240.31 L574.40,239.85 L574.43,239.31 L574.45,238.70 L574.48,238.01 L574.51,237.24 L574.54,236.36 L574.58,235.39 L574.61,234.31 L574.64,233.12 L574.67,231.74 L574.71,230.12 L574.74,228.32 L574.78,226.36 L574.81,224.29 L574.85,222.14 L574.88,219.95 L574.92,217.76 L574.95,215.61 L574.99,213.54 L575.03,211.58 L575.07,209.78 L575.10,208.17 L575.14,206.78 L575.18,205.58 L575.22,204.47 L575.26,203.46 L575.30,202.54 L575.35,201.71 L575.39,200.97 L575.43,200.32 L575.47,199.75 L575.52,199.27 L575.56,198.86 L575.60,198.53 L575.64,198.28 L575.69,198.11 L575.73,198.01 L575.77,198.00 L575.81,198.10 L575.85,198.30 L575.90,198.60 L575.94,198.98 L575.98,199.44 L576.02,199.97 L576.06,200.56 L576.11,201.20 L576.15,201.88 L576.19,202.60 L576.23,203.35 L576.27,204.12 L576.32,204.90 L576.36,205.75 L576.40,206.70 L576.44,207.73 L576.48,208.84 L576.52,210.00 L576.56,211.20 L576.60,212.41 L576.64,213.63 L576.69,214.83 L576.73,215.99 L576.77,217.10 L576.81,218.15 L576.86,219.10 L576.90,219.95 L576.95,220.74 L576.99,221.52 L577.04,222.28 L577.09,223.01 L577.13,223.70 L577.18,224.35 L577.23,224.95 L577.28,225.50 L577.33,225.97 L577.38,226.38 L577.43,226.70 L577.47,226.93 L577.52,227.07 L577.57,227.10 L577.62,227.02 L577.67,226.84 L577.71,226.56 L577.76,226.20 L577.81,225.75 L577.86,225.23 L577.91,224.64 L577.95,223.99 L578.00,223.30 L578.05,222.56 L578.10,221.78 L578.15,220.98 L578.19,220.16 L578.24,219.33 L578.29,218.42 L578.34,217.40 L578.39,216.27 L578.44,215.07 L578.48,213.82 L578.53,212.53 L578.58,211.24 L578.63,209.95 L578.68,208.69 L578.73,207.49 L578.77,206.36 L578.82,205.33 L578.87,204.42 L578.91,203.65 L578.96,202.98 L579.00,202.37 L579.04,201.81 L579.09,201.30 L579.13,200.86 L579.17,200.48 L579.21,200.16 L579.26,199.91 L579.30,199.73 L579.34,199.61 L579.38,199.57 L579.42,199.60 L579.46,199.70 L579.50,199.89 L579.54,200.13 L579.57,200.41 L579.61,200.74 L579.65,201.13 L579.68,201.58 L579.72,202.10 L579.75,202.71 L579.79,203.41 L579.82,204.20 L579.86,205.10 L579.89,206.11 L579.93,207.25 L579.96,208.51 L580.00,209.92 L580.04,211.53 L580.07,213.36 L580.11,215.40 L580.14,217.60 L580.18,219.93 L580.22,222.36 L580.25,224.85 L580.29,227.37 L580.32,229.89 L580.36,232.38 L580.39,234.79 L580.43,237.10 L580.47,239.27 L580.50,241.27 L580.54,243.17 L580.57,245.06 L580.61,246.92 L580.65,248.75 L580.68,250.54 L580.72,252.27 L580.75,253.95 L580.79,255.56 L580.83,257.09 L580.86,258.53 L580.90,259.87 L580.93,261.10 L580.97,262.22 L581.00,263.22 L581.04,264.07 L581.07,264.79 L581.11,265.38 L581.14,265.87 L581.17,266.25 L581.20,266.54 L581.24,266.77 L581.27,266.92 L581.30,267.03 L581.34,267.10 L581.38,267.14 L581.42,267.17 L581.46,267.19 L581.51,267.23 L581.56,267.25 L581.61,267.24 L581.66,267.18 L581.71,267.09 L581.76,266.96 L581.82,266.80 L581.88,266.61 L581.94,266.38 L582.00,266.13 L582.07,265.85 L582.13,265.54 L582.20,265.21 L582.27,264.85 L582.35,264.47 L582.42,264.04 L582.50,263.55 L582.58,263.00 L582.67,262.41 L582.76,261.78 L582.85,261.12 L582.94,260.46 L583.04,259.79 L583.13,259.13 L583.22,258.48 L583.32,257.87 L583.41,257.30 L583.51,256.78 L583.60,256.32 L583.69,255.89 L583.79,255.47 L583.88,255.06 L583.98,254.67 L584.07,254.29 L584.17,253.94 L584.27,253.61 L584.36,253.32 L584.46,253.07 L584.56,252.86 L584.65,252.70 L584.75,252.59 L584.85,252.54 L584.94,252.56 L585.04,252.64 L585.13,252.79 L585.22,253.00 L585.31,253.28 L585.41,253.60 L585.50,253.96 L585.59,254.36 L585.68,254.79 L585.78,255.24 L585.87,255.70 L585.97,256.17 L586.07,256.65 L586.18,257.12 L586.28,257.57 L586.39,258.04 L586.50,258.56 L586.62,259.11 L586.74,259.69 L586.85,260.28 L586.98,260.88 L587.10,261.49 L587.22,262.09 L587.34,262.68 L587.47,263.24 L587.59,263.77 L587.71,264.26 L587.84,264.71 L587.96,265.10 L588.07,265.43 L588.19,265.74 L588.31,266.00 L588.42,266.24 L588.54,266.45 L588.65,266.64 L588.77,266.80 L588.88,266.95 L589.00,267.08 L589.12,267.19 L589.24,267.30 L589.37,267.40 L589.50,267.50 L589.63,267.60 L589.77,267.70 L589.91,267.77 L590.05,267.84 L590.20,267.89 L590.35,267.93 L590.50,267.96 L590.65,267.98 L590.81,267.99 L590.96,267.99 L591.11,267.98 L591.27,267.97 L591.42,267.96 L591.57,267.94 L591.73,267.92 L591.87,267.89 L592.02,267.87 L592.17,267.84 L592.31,267.80 L592.46,267.76 L592.60,267.72 L592.75,267.66 L592.89,267.60 L593.04,267.53 L593.19,267.44 L593.34,267.35 L593.50,267.24 L593.66,267.11 L593.82,266.98 L593.99,266.82 L594.16,266.64 L594.34,266.44 L594.52,266.23 L594.71,266.01 L594.90,265.77 L595.09,265.53 L595.27,265.28 L595.46,265.03 L595.64,264.78 L595.82,264.53 L596.00,264.29 L596.17,264.06 L596.33,263.84 L596.49,263.64 L596.63,263.44 L596.78,263.25 L596.91,263.07 L597.05,262.89 L597.18,262.71 L597.31,262.53 L597.44,262.34 L597.57,262.15 L597.70,261.95 L597.83,261.74 L597.97,261.52 L598.11,261.28 L598.26,261.02 L598.41,260.74 L598.57,260.43 L598.73,260.10 L598.89,259.75 L599.05,259.39 L599.22,259.02 L599.39,258.65 L599.56,258.28 L599.72,257.91 L599.89,257.56 L600.05,257.21 L600.21,256.89 L600.37,256.59 L600.52,256.32 L600.67,256.06 L600.81,255.81 L600.96,255.57 L601.10,255.34 L601.23,255.12 L601.37,254.91 L601.51,254.71 L601.64,254.53 L601.78,254.36 L601.91,254.21 L602.04,254.08 L602.18,253.97 L602.31,253.88 L602.45,253.81 L602.58,253.77 L602.71,253.75 L602.84,253.76 L602.98,253.79 L603.11,253.84 L603.24,253.91 L603.37,253.99 L603.50,254.08 L603.63,254.18 L603.76,254.29 L603.89,254.40 L604.02,254.52 L604.15,254.64 L604.29,254.75 L604.42,254.87 L604.56,255.00 L604.69,255.14 L604.83,255.29 L604.97,255.44 L605.11,255.60 L605.25,255.77 L605.38,255.94 L605.52,256.11 L605.66,256.28 L605.80,256.45 L605.94,256.62 L606.08,256.79 L606.21,256.95" fill="none" stroke="#1a1aff" stroke-width="1.10" stroke-linejoin="round"/>
<path d="M606.80,235.00 L606.82,234.59 L606.84,234.16 L606.86,233.73 L606.88,233.29 L606.90,232.85 L606.92,232.40 L606.94,231.97 L606.96,231.54 L606.98,231.12 L607.00,230.72 L607.02,230.34 L607.05,229.99 L607.07,229.66 L607.09,229.36 L607.12,229.07 L607.14,228.77 L607.17,228.47 L607.19,228.17 L607.22,227.88 L607.24,227.62 L607.27,227.38 L607.30,227.18 L607.32,227.02 L607.35,226.91 L607.38,226.85 L607.41,226.86 L607.44,226.94 L607.47,227.10 L607.50,227.32 L607.53,227.57 L607.57,227.87 L607.60,228.21 L607.63,228.60 L607.67,229.04 L607.70,229.54 L607.74,230.10 L607.78,230.73 L607.81,231.42 L607.85,232.19 L607.89,233.05 L607.93,233.98 L607.97,235.00 L608.02,236.16 L608.06,237.47 L608.10,238.93 L608.15,240.49 L608.20,242.15 L608.25,243.87 L608.30,245.62 L608.35,247.40 L608.40,249.16 L608.45,250.88 L608.50,252.55 L608.55,254.13 L608.59,255.60 L608.64,256.95 L608.69,258.22 L608.74,259.52 L608.79,260.82 L608.83,262.11 L608.88,263.36 L608.93,264.56 L608.98,265.70 L609.03,266.76 L609.07,267.72 L609.12,268.56 L609.17,269.27 L609.22,269.82 L609.26,270.22 L609.31,270.43 L609.36,270.44 L609.41,270.26 L609.45,269.91 L609.50,269.42 L609.55,268.78 L609.60,268.04 L609.64,267.19 L609.69,266.27 L609.74,265.28 L609.78,264.26 L609.83,263.20 L609.88,262.14 L609.93,261.10 L609.98,260.08 L610.03,259.02 L610.09,257.84 L610.14,256.56 L610.20,255.21 L610.25,253.80 L610.31,252.37 L610.36,250.93 L610.42,249.51 L610.48,248.12 L610.53,246.79 L610.58,245.55 L610.64,244.40 L610.69,243.39 L610.74,242.52 L610.78,241.78 L610.83,241.11 L610.87,240.52 L610.91,240.00 L610.95,239.55 L610.99,239.16 L611.03,238.84 L611.07,238.58 L611.11,238.38 L611.15,238.23 L611.19,238.13 L611.24,238.09 L611.28,238.09 L611.32,238.13 L611.37,238.22 L611.41,238.36 L611.46,238.55 L611.51,238.78 L611.56,239.07 L611.60,239.42 L611.65,239.82 L611.70,240.28 L611.75,240.80 L611.80,241.39 L611.85,242.04 L611.90,242.76 L611.94,243.55 L611.99,244.40 L612.04,245.39 L612.09,246.54 L612.14,247.83 L612.19,249.23 L612.24,250.71 L612.28,252.25 L612.33,253.81 L612.38,255.37 L612.43,256.91 L612.48,258.39 L612.52,259.79 L612.57,261.08 L612.62,262.23 L612.66,263.22 L612.71,264.11 L612.75,264.99 L612.80,265.84 L612.84,266.65 L612.88,267.41 L612.92,268.10 L612.97,268.70 L613.01,269.21 L613.05,269.61 L613.09,269.89 L613.13,270.03 L613.17,270.02 L613.21,269.84 L613.25,269.49 L613.29,268.95 L613.32,268.25 L613.36,267.40 L613.40,266.40 L613.43,265.26 L613.47,264.00 L613.51,262.63 L613.54,261.15 L613.58,259.58 L613.61,257.92 L613.65,256.19 L613.68,254.40 L613.72,252.56 L613.75,250.67 L613.79,248.65 L613.82,246.39 L613.86,243.95 L613.89,241.37 L613.93,238.68 L613.96,235.92 L614.00,233.14 L614.03,230.37 L614.07,227.64 L614.10,225.01 L614.14,222.51 L614.18,220.18 L614.22,218.06 L614.25,216.19 L614.29,214.52 L614.33,212.99 L614.37,211.58 L614.41,210.28 L614.45,209.10 L614.49,208.01 L614.53,207.02 L614.57,206.12 L614.61,205.29 L614.65,204.54 L614.70,203.85 L614.74,203.21 L614.79,202.63 L614.84,202.08 L614.89,201.61 L614.94,201.24 L615.00,200.97 L615.05,200.77 L615.11,200.66 L615.16,200.61 L615.22,200.61 L615.28,200.67 L615.34,200.76 L615.41,200.88 L615.47,201.01 L615.54,201.16 L615.61,201.31 L615.68,201.46 L615.75,201.62 L615.82,201.82 L615.89,202.07 L615.97,202.35 L616.04,202.67 L616.12,203.00 L616.20,203.36 L616.28,203.72 L616.36,204.09 L616.45,204.47 L616.54,204.83 L616.64,205.19 L616.74,205.53 L616.85,205.84 L616.96,206.16 L617.09,206.50 L617.21,206.85 L617.35,207.21 L617.49,207.58 L617.63,207.94 L617.77,208.29 L617.92,208.63 L618.06,208.94 L618.21,209.22 L618.36,209.47 L618.50,209.67 L618.64,209.82 L618.78,209.92 L618.91,209.96 L619.05,209.96 L619.18,209.92 L619.31,209.83 L619.45,209.71 L619.58,209.57 L619.71,209.39 L619.85,209.19 L619.98,208.97 L620.11,208.74 L620.24,208.50 L620.37,208.24 L620.49,207.98 L620.62,207.73 L620.74,207.45 L620.87,207.13 L620.99,206.78 L621.12,206.41 L621.24,206.01 L621.36,205.61 L621.48,205.20 L621.60,204.79 L621.72,204.39 L621.84,204.00 L621.95,203.63 L622.07,203.29 L622.18,202.98 L622.29,202.71 L622.40,202.47 L622.51,202.24 L622.61,202.03 L622.72,201.83 L622.82,201.65 L622.92,201.49 L623.02,201.34 L623.11,201.21 L623.21,201.09 L623.31,201.00 L623.41,200.93 L623.51,200.87 L623.61,200.84 L623.72,200.83 L623.82,200.85 L623.93,200.91 L624.03,200.99 L624.14,201.11 L624.24,201.25 L624.35,201.40 L624.46,201.57 L624.56,201.75 L624.67,201.93 L624.78,202.11 L624.89,202.28 L625.00,202.44 L625.11,202.59 L625.23,202.71 L625.34,202.82 L625.46,202.94 L625.57,203.05 L625.69,203.16 L625.81,203.27 L625.93,203.37 L626.05,203.47 L626.17,203.57 L626.29,203.66 L626.42,203.74 L626.54,203.81 L626.66,203.87 L626.78,203.92 L626.90,203.96 L627.02,203.98 L627.14,203.97 L627.25,203.94 L627.37,203.90 L627.48,203.84 L627.60,203.77 L627.71,203.71 L627.83,203.65 L627.95,203.59 L628.07,203.56 L628.19,203.54 L628.31,203.54 L628.44,203.58 L628.58,203.65 L628.71,203.76 L628.86,203.89 L629.01,204.06 L629.16,204.25 L629.31,204.45 L629.47,204.67 L629.63,204.90 L629.78,205.14 L629.94,205.38 L630.09,205.62 L630.25,205.85 L630.39,206.07 L630.53,206.28 L630.67,206.47 L630.80,206.64 L630.92,206.81 L631.03,206.96 L631.14,207.11 L631.25,207.25 L631.36,207.39 L631.46,207.53 L631.56,207.67 L631.67,207.82 L631.78,207.97 L631.89,208.12 L632.01,208.29 L632.13,208.47 L632.26,208.67 L632.40,208.88 L632.54,209.10 L632.69,209.34 L632.84,209.59 L633.00,209.84 L633.16,210.11 L633.32,210.37 L633.48,210.64 L633.64,210.90 L633.80,211.16 L633.97,211.42 L634.13,211.66 L634.28,211.89 L634.44,212.11 L634.59,212.33 L634.74,212.54 L634.89,212.75 L635.05,212.96 L635.20,213.17 L635.35,213.37 L635.50,213.56 L635.65,213.75 L635.80,213.93 L635.95,214.09 L636.10,214.25 L636.24,214.39 L636.39,214.51 L636.53,214.62 L636.67,214.72 L636.82,214.80 L636.96,214.88 L637.10,214.95 L637.24,215.00 L637.38,215.04 L637.52,215.07 L637.66,215.09 L637.79,215.10 L637.93,215.09 L638.06,215.07 L638.20,215.04 L638.33,215.00 L638.46,214.94 L638.58,214.86 L638.71,214.75 L638.83,214.63 L638.95,214.49 L639.07,214.34 L639.19,214.17 L639.31,214.00 L639.43,213.81 L639.54,213.63 L639.66,213.44 L639.78,213.26 L639.90,213.08 L640.01,212.90 L640.13,212.74" fill="none" stroke="#ff1a1a" stroke-width="1.10" stroke-linejoin="round"/>
<path d="M640.30,235.00 L640.34,235.32 L640.37,235.64 L640.41,235.97 L640.45,236.31 L640.48,236.64 L640.52,236.98 L640.56,237.31 L640.59,237.64 L640.63,237.96 L640.67,238.27 L640.70,238.57 L640.74,238.86 L640.77,239.13 L640.80,239.39 L640.83,239.65 L640.87,239.94 L640.90,240.25 L640.93,240.57 L640.96,240.89 L640.99,241.19 L641.02,241.47 L641.05,241.71 L641.08,241.91 L641.10,242.06 L641.13,242.14 L641.16,242.15 L641.19,242.07 L641.22,241.90 L641.25,241.66 L641.28,241.39 L641.31,241.08 L641.34,240.72 L641.37,240.31 L641.40,239.85 L641.43,239.31 L641.45,238.70 L641.48,238.01 L641.51,237.24 L641.54,236.36 L641.58,235.39 L641.61,234.31 L641.64,233.12 L641.67,231.74 L641.71,230.12 L641.74,228.32 L641.78,226.36 L641.81,224.29 L641.85,222.14 L641.88,219.95 L641.92,217.76 L641.95,215.61 L641.99,213.54 L642.03,211.58 L642.07,209.78 L642.10,208.17 L642.14,206.78 L642.18,205.58 L642.22,204.47 L642.26,203.46 L642.30,202.54 L642.35,201.71 L642.39,200.97 L642.43,200.32 L642.47,199.75 L642.52,199.27 L642.56,198.86 L642.60,198.53 L642.64,198.28 L642.69,198.11 L642.73,198.01 L642.77,198.00 L642.81,198.10 L642.85,198.30 L642.90,198.60 L642.94,198.98 L642.98,199.44 L643.02,199.97 L643.06,200.56 L643.11,201.20 L643.15,201.88 L643.19,202.60 L643.23,203.35 L643.27,204.12 L643.32,204.90 L643.36,205.75 L643.40,206.70 L643.44,207.73 L643.48,208.84 L643.52,210.00 L643.56,211.20 L643.60,212.41 L643.64,213.63 L643.69,214.83 L643.73,215.99 L643.77,217.10 L643.81,218.15 L643.86,219.10 L643.90,219.95 L643.95,220.74 L643.99,221.52 L644.04,222.28 L644.09,223.01 L644.13,223.70 L644.18,224.35 L644.23,224.95 L644.28,225.50 L644.33,225.97 L644.38,226.38 L644.43,226.70 L644.47,226.93 L644.52,227.07 L644.57,227.10 L644.62,227.02 L644.67,226.84 L644.71,226.56 L644.76,226.20 L644.81,225.75 L644.86,225.23 L644.91,224.64 L644.95,223.99 L645.00,223.30 L645.05,222.56 L645.10,221.78 L645.15,220.98 L645.19,220.16 L645.24,219.33 L645.29,218.42 L645.34,217.40 L645.39,216.27 L645.44,215.07 L645.48,213.82 L645.53,212.53 L645.58,211.24 L645.63,209.95 L645.68,208.69 L645.73,207.49 L645.77,206.36 L645.82,205.33 L645.87,204.42 L645.91,203.65 L645.96,202.98 L646.00,202.37 L646.04,201.81 L646.09,201.30 L646.13,200.86 L646.17,200.48 L646.21,200.16 L646.26,199.91 L646.30,199.73 L646.34,199.61 L646.38,199.57 L646.42,199.60 L646.46,199.70 L646.50,199.89 L646.54,200.13 L646.57,200.41 L646.61,200.74 L646.65,201.13 L646.68,201.58 L646.72,202.10 L646.75,202.71 L646.79,203.41 L646.82,204.20 L646.86,205.10 L646.89,206.11 L646.93,207.25 L646.96,208.51 L647.00,209.92 L647.04,211.53 L647.07,213.36 L647.11,215.40 L647.14,217.60 L647.18,219.93 L647.22,222.36 L647.25,224.85 L647.29,227.37 L647.32,229.89 L647.36,232.38 L647.39,234.79 L647.43,237.10 L647.47,239.27 L647.50,241.27 L647.54,243.17 L647.57,245.06 L647.61,246.92 L647.65,248.75 L647.68,250.54 L647.72,252.27 L647.75,253.95 L647.79,255.56 L647.83,257.09 L647.86,258.53 L647.90,259.87 L647.93,261.10 L647.97,262.22 L648.00,263.22 L648.04,264.07 L648.07,264.79 L648.11,265.38 L648.14,265.87 L648.17,266.25 L648.20,266.54 L648.24,266.77 L648.27,266.92 L648.30,267.03 L648.34,267.10 L648.38,267.14 L648.42,267.17 L648.46,267.19 L648.51,267.23 L648.56,267.25 L648.61,267.24 L648.66,267.18 L648.71,267.09 L648.76,266.96 L648.82,266.80 L648.88,266.61 L648.94,266.38 L649.00,266.13 L649.07,265.85 L649.13,265.54 L649.20,265.21 L649.27,264.85 L649.35,264.47 L649.42,264.04 L649.50,263.55 L649.58,263.00 L649.67,262.41 L649.76,261.78 L649.85,261.12 L649.94,260.46 L650.04,259.79 L650.13,259.13 L650.22,258.48 L650.32,257.87 L650.41,257.30 L650.51,256.78 L650.60,256.32 L650.69,255.89 L650.79,255.47 L650.88,255.06 L650.98,254.67 L651.07,254.29 L651.17,253.94 L651.27,253.61 L651.36,253.32 L651.46,253.07 L651.56,252.86 L651.65,252.70 L651.75,252.59 L651.85,252.54 L651.94,252.56 L652.04,252.64 L652.13,252.79 L652.22,253.00 L652.31,253.28 L652.41,253.60 L652.50,253.96 L652.59,254.36 L652.68,254.79 L652.78,255.24 L652.87,255.70 L652.97,256.17 L653.07,256.65 L653.18,257.12 L653.28,257.57 L653.39,258.04 L653.50,258.56 L653.62,259.11 L653.74,259.69 L653.85,260.28 L653.98,260.88 L654.10,261.49 L654.22,262.09 L654.34,262.68 L654.47,263.24 L654.59,263.77 L654.71,264.26 L654.84,264.71 L654.96,265.10 L655.07,265.43 L655.19,265.74 L655.31,266.00 L655.42,266.24 L655.54,266.45 L655.65,266.64 L655.77,266.80 L655.88,266.95 L656.00,267.08 L656.12,267.19 L656.24,267.30 L656.37,267.40 L656.50,267.50 L656.63,267.60 L656.77,267.70 L656.91,267.77 L657.05,267.84 L657.20,267.89 L657.35,267.93 L657.50,267.96 L657.65,267.98 L657.81,267.99 L657.96,267.99 L658.11,267.98 L658.27,267.97 L658.42,267.96 L658.57,267.94 L658.73,267.92 L658.87,267.89 L659.02,267.87 L659.17,267.84 L659.31,267.80 L659.46,267.76 L659.60,267.72 L659.75,267.66 L659.89,267.60 L660.04,267.53 L660.19,267.44 L660.34,267.35 L660.50,267.24 L660.66,267.11 L660.82,266.98 L660.99,266.82 L661.16,266.64 L661.34,266.44 L661.52,266.23 L661.71,266.01 L661.90,265.77 L662.09,265.53 L662.27,265.28 L662.46,265.03 L662.64,264.78 L662.82,264.53 L663.00,264.29 L663.17,264.06 L663.33,263.84 L663.49,263.64 L663.63,263.44 L663.78,263.25 L663.91,263.07 L664.05,262.89 L664.18,262.71 L664.31,262.53 L664.44,262.34 L664.57,262.15 L664.70,261.95 L664.83,261.74 L664.97,261.52 L665.11,261.28 L665.26,261.02 L665.41,260.74 L665.57,260.43 L665.73,260.10 L665.89,259.75 L666.05,259.39 L666.22,259.02 L666.39,258.65 L666.56,258.28 L666.72,257.91 L666.89,257.56 L667.05,257.21 L667.21,256.89 L667.37,256.59 L667.52,256.32 L667.67,256.06 L667.81,255.81 L667.96,255.57 L668.10,255.34 L668.23,255.12 L668.37,254.91 L668.51,254.71 L668.64,254.53 L668.78,254.36 L668.91,254.21 L669.04,254.08 L669.18,253.97 L669.31,253.88 L669.45,253.81 L669.58,253.77 L669.71,253.75 L669.84,253.76 L669.98,253.79 L670.11,253.84 L670.24,253.91 L670.37,253.99 L670.50,254.08 L670.63,254.18 L670.76,254.29 L670.89,254.40 L671.02,254.52 L671.15,254.64 L671.29,254.75 L671.42,254.87 L671.56,255.00 L671.69,255.14 L671.83,255.29 L671.97,255.44 L672.11,255.60 L672.25,255.77 L672.38,255.94 L672.52,256.11 L672.66,256.28 L672.80,256.45 L672.94,256.62 L673.08,256.79 L673.21,256.95" fill="none" stroke="#1a1aff" stroke-width="1.10" stroke-linejoin="round"/>
<rect x="412.13" y="175.96" width="4.6" height="4.6" fill="none" stroke="#ff1a1a" stroke-width="0.85"/>
<rect x="420.42" y="175.02" width="4.6" height="4.6" fill="none" stroke="#ff1a1a" stroke-width="0.85"/>
<rect x="428.79" y="189.75" width="4.6" height="4.6" fill="none" stroke="#ff1a1a" stroke-width="0.85"/>
<circle cx="439.30" cy="235.00" r="2.55" fill="none" stroke="#1a1aff" stroke-width="0.85"/>
<circle cx="447.68" cy="258.51" r="2.55" fill="none" stroke="#1a1aff" stroke-width="0.85"/>
<circle cx="456.38" cy="261.96" r="2.55" fill="none" stroke="#1a1aff" stroke-width="0.85"/>
<circle cx="464.76" cy="256.32" r="2.55" fill="none" stroke="#1a1aff" stroke-width="0.85"/>
<rect x="470.50" y="232.70" width="4.6" height="4.6" fill="none" stroke="#ff1a1a" stroke-width="0.85"/>
<rect x="478.88" y="196.65" width="4.6" height="4.6" fill="none" stroke="#ff1a1a" stroke-width="0.85"/>
<rect x="487.42" y="196.33" width="4.6" height="4.6" fill="none" stroke="#ff1a1a" stroke-width="0.85"/>
<rect x="495.88" y="204.17" width="4.6" height="4.6" fill="none" stroke="#ff1a1a" stroke-width="0.85"/>
<circle cx="506.30" cy="235.00" r="2.55" fill="none" stroke="#1a1aff" stroke-width="0.85"/>
<circle cx="514.51" cy="267.23" r="2.55" fill="none" stroke="#1a1aff" stroke-width="0.85"/>
<circle cx="522.80" cy="267.60" r="2.55" fill="none" stroke="#1a1aff" stroke-width="0.85"/>
<circle cx="531.26" cy="261.02" r="2.55" fill="none" stroke="#1a1aff" stroke-width="0.85"/>
<rect x="537.50" y="232.70" width="4.6" height="4.6" fill="none" stroke="#ff1a1a" stroke-width="0.85"/>
<rect x="545.88" y="198.84" width="4.6" height="4.6" fill="none" stroke="#ff1a1a" stroke-width="0.85"/>
<rect x="554.42" y="198.53" width="4.6" height="4.6" fill="none" stroke="#ff1a1a" stroke-width="0.85"/>
<rect x="562.88" y="206.37" width="4.6" height="4.6" fill="none" stroke="#ff1a1a" stroke-width="0.85"/>
<circle cx="573.30" cy="235.00" r="2.55" fill="none" stroke="#1a1aff" stroke-width="0.85"/>
<circle cx="581.51" cy="267.23" r="2.55" fill="none" stroke="#1a1aff" stroke-width="0.85"/>
<circle cx="589.80" cy="267.60" r="2.55" fill="none" stroke="#1a1aff" stroke-width="0.85"/>
<circle cx="598.26" cy="261.02" r="2.55" fill="none" stroke="#1a1aff" stroke-width="0.85"/>
<rect x="604.50" y="232.70" width="4.6" height="4.6" fill="none" stroke="#ff1a1a" stroke-width="0.85"/>
<rect x="612.88" y="198.84" width="4.6" height="4.6" fill="none" stroke="#ff1a1a" stroke-width="0.85"/>
<rect x="621.42" y="198.53" width="4.6" height="4.6" fill="none" stroke="#ff1a1a" stroke-width="0.85"/>
<rect x="629.88" y="206.37" width="4.6" height="4.6" fill="none" stroke="#ff1a1a" stroke-width="0.85"/>
<circle cx="640.30" cy="235.00" r="2.55" fill="none" stroke="#1a1aff" stroke-width="0.85"/>
<circle cx="648.51" cy="267.23" r="2.55" fill="none" stroke="#1a1aff" stroke-width="0.85"/>
<circle cx="656.80" cy="267.60" r="2.55" fill="none" stroke="#1a1aff" stroke-width="0.85"/>
<circle cx="665.26" cy="261.02" r="2.55" fill="none" stroke="#1a1aff" stroke-width="0.85"/>
<path d="M607.0,194.0 v-2.2 q0,-1.1 1.1,-1.1 H613.7 M610.9,187.2 v3.5 M608.1,190.7 H613.7 q1.1,0 1.1,1.1 v2.2" fill="none" stroke="#222" stroke-width="0.8"/>
<path d="M640.5,194.0 v-2.2 q0,-1.1 1.1,-1.1 H647.2 M644.4,187.2 v3.5 M641.6,190.7 H647.2 q1.1,0 1.1,1.1 v2.2" fill="none" stroke="#222" stroke-width="0.8"/>
<text class="s" font-size="11.5" font-style="italic" fill="#111"><tspan x="608.0" y="182.8">Z</tspan><tspan x="614.3" y="185.4" font-style="normal" font-size="9.6">h</tspan></text>
<text class="s" font-size="11.5" font-style="italic" fill="#111"><tspan x="641.5" y="182.8">Z</tspan><tspan x="647.6" y="185.4" font-style="normal" font-size="9.6">c</tspan></text>
<rect x="432.4" y="130.2" width="240" height="19.3" fill="#fff" stroke="#8c8c8c" stroke-width="0.9"/>
<line x1="433.4" y1="139.8" x2="444.2" y2="139.8" stroke="#2a2aff" stroke-width="1"/>
<circle cx="438.7" cy="139.8" r="2.5" fill="none" stroke="#2a2aff" stroke-width="0.8"/>
<text class="s" font-size="11.8"><tspan x="445.0" y="142.2">T</tspan><tspan x="452.4" y="147.4" font-size="9.4">f,c</tspan></text>
<line x1="464.1" y1="139.8" x2="474.9" y2="139.8" stroke="#ff2a2a" stroke-width="1"/>
<rect x="467.2" y="137.5" width="4.6" height="4.6" fill="none" stroke="#ff2a2a" stroke-width="0.8"/>
<text class="s" font-size="11.8"><tspan x="475.9" y="142.2">T</tspan><tspan x="483.3" y="147.4" font-size="9.4">f,h</tspan></text>
<line x1="494.9" y1="139.9" x2="504.9" y2="139.9" stroke="#9c9cff" stroke-width="1" stroke-dasharray="1.5 1.6"/>
<text class="s" x="506.6" y="144.7" font-size="11.55">Cold Cycle Start</text>
<line x1="587.2" y1="139.9" x2="597.8" y2="139.9" stroke="#ff9c9c" stroke-width="1" stroke-dasharray="1.5 1.6"/>
<text class="s" x="598.8" y="144.7" font-size="11.55">Hot Cycle Start</text>
</g>
</svg>
</body></html>
